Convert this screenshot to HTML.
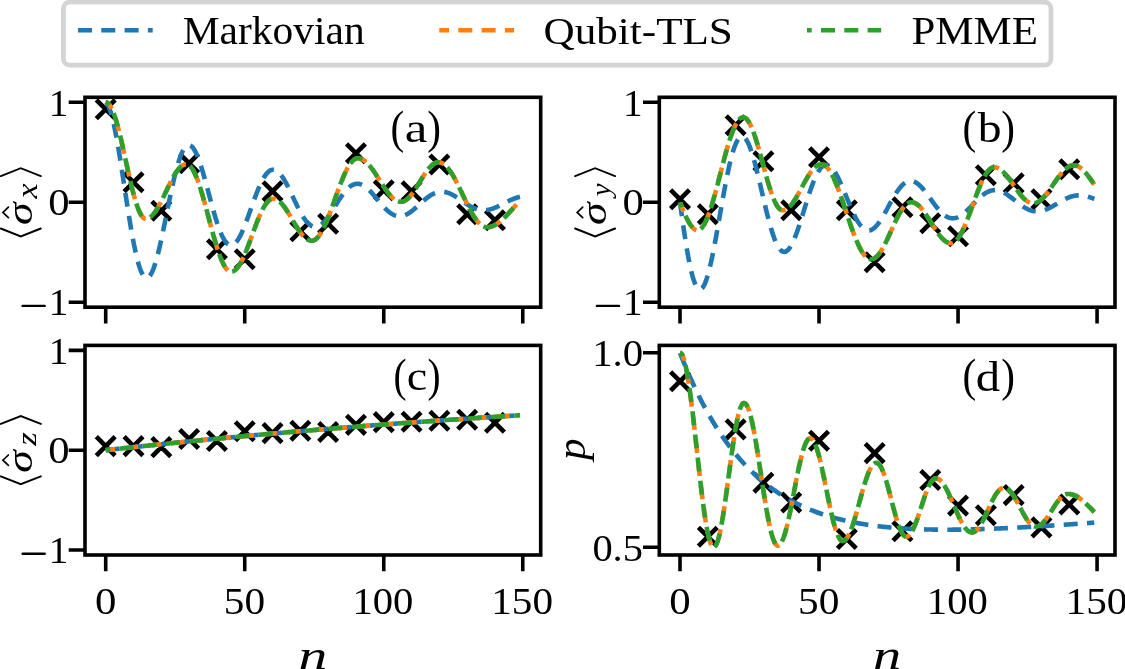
<!DOCTYPE html>
<html><head><meta charset="utf-8"><style>html,body{margin:0;padding:0;background:#fff;overflow:hidden}svg{display:block;will-change:transform}</style></head>
<body><svg width="1125" height="669" viewBox="0 0 1125 669">
<rect width="1125" height="669" fill="#fff"/>
<path d="M96.31,99.89L115.11,118.69M96.31,118.69L115.11,99.89M124.12,172.86L142.92,191.66M124.12,191.66L142.92,172.86M151.92,201.35L170.72,220.15M151.92,220.15L170.72,201.35M179.72,153.87L198.52,172.67M179.72,172.67L198.52,153.87M207.53,239.83L226.33,258.63M207.53,258.63L226.33,239.83M235.33,249.82L254.13,268.62M235.33,268.62L254.13,249.82M263.13,181.86L281.93,200.66M263.13,200.66L281.93,181.86M290.94,221.84L309.74,240.64M290.94,240.64L309.74,221.84M318.74,214.34L337.54,233.14M318.74,233.14L337.54,214.34M346.55,143.87L365.35,162.67M346.55,162.67L365.35,143.87M374.35,180.86L393.15,199.66M374.35,199.66L393.15,180.86M402.15,181.86L420.95,200.66M402.15,200.66L420.95,181.86M429.96,155.17L448.76,173.97M429.96,173.97L448.76,155.17M457.76,204.84L476.56,223.64M457.76,223.64L476.56,204.84M485.56,210.84L504.36,229.64M485.56,229.64L504.36,210.84" stroke="#000" stroke-width="4.6" fill="none"/>
<path d="M105.71,102.30 L106.41,102.89 L107.10,103.74 L107.79,104.85 L108.48,106.21 L109.17,107.81 L109.86,109.65 L110.55,111.71 L111.25,114.00 L111.94,116.51 L112.63,119.22 L113.32,122.12 L114.01,125.21 L114.70,128.48 L115.40,131.92 L116.09,135.51 L116.78,139.25 L117.47,143.12 L118.16,147.11 L118.85,151.21 L119.55,155.41 L120.24,159.70 L120.93,164.06 L121.62,168.48 L122.31,172.95 L123.00,177.46 L123.70,182.00 L124.39,186.54 L125.08,191.09 L125.77,195.62 L126.46,200.13 L127.15,204.60 L127.85,209.03 L128.54,213.40 L129.23,217.70 L129.92,221.91 L130.61,226.04 L131.30,230.06 L131.99,233.97 L132.69,237.77 L133.38,241.43 L134.07,244.95 L134.76,248.33 L135.45,251.56 L136.14,254.62 L136.84,257.52 L137.53,260.24 L138.22,262.78 L138.91,265.14 L139.60,267.30 L140.29,269.28 L140.99,271.06 L141.68,272.63 L142.37,274.01 L143.06,275.18 L143.75,276.15 L144.44,276.91 L145.14,277.46 L145.83,277.81 L146.52,277.96 L147.21,277.90 L147.90,277.64 L148.59,277.18 L149.28,276.53 L149.98,275.68 L150.67,274.65 L151.36,273.43 L152.05,272.03 L152.74,270.46 L153.43,268.73 L154.13,266.83 L154.82,264.78 L155.51,262.58 L156.20,260.24 L156.89,257.76 L157.58,255.17 L158.28,252.45 L158.97,249.62 L159.66,246.70 L160.35,243.68 L161.04,240.58 L161.73,237.41 L162.43,234.17 L163.12,230.88 L163.81,227.54 L164.50,224.17 L165.19,220.76 L165.88,217.34 L166.58,213.91 L167.27,210.48 L167.96,207.06 L168.65,203.66 L169.34,200.29 L170.03,196.95 L170.72,193.66 L171.42,190.42 L172.11,187.24 L172.80,184.14 L173.49,181.10 L174.18,178.16 L174.87,175.30 L175.57,172.54 L176.26,169.89 L176.95,167.35 L177.64,164.92 L178.33,162.62 L179.02,160.44 L179.72,158.39 L180.41,156.48 L181.10,154.71 L181.79,153.09 L182.48,151.60 L183.17,150.27 L183.87,149.09 L184.56,148.06 L185.25,147.18 L185.94,146.46 L186.63,145.90 L187.32,145.49 L188.01,145.23 L188.71,145.13 L189.40,145.19 L190.09,145.39 L190.78,145.74 L191.47,146.24 L192.16,146.89 L192.86,147.68 L193.55,148.60 L194.24,149.66 L194.93,150.86 L195.62,152.17 L196.31,153.61 L197.01,155.16 L197.70,156.83 L198.39,158.60 L199.08,160.47 L199.77,162.44 L200.46,164.49 L201.16,166.63 L201.85,168.84 L202.54,171.12 L203.23,173.46 L203.92,175.86 L204.61,178.30 L205.31,180.79 L206.00,183.31 L206.69,185.86 L207.38,188.42 L208.07,191.01 L208.76,193.59 L209.45,196.18 L210.15,198.76 L210.84,201.32 L211.53,203.87 L212.22,206.38 L212.91,208.86 L213.60,211.31 L214.30,213.70 L214.99,216.04 L215.68,218.33 L216.37,220.55 L217.06,222.70 L217.75,224.77 L218.45,226.77 L219.14,228.68 L219.83,230.51 L220.52,232.24 L221.21,233.88 L221.90,235.42 L222.60,236.85 L223.29,238.18 L223.98,239.41 L224.67,240.52 L225.36,241.52 L226.05,242.40 L226.74,243.17 L227.44,243.83 L228.13,244.36 L228.82,244.78 L229.51,245.09 L230.20,245.27 L230.89,245.34 L231.59,245.30 L232.28,245.14 L232.97,244.86 L233.66,244.48 L234.35,243.99 L235.04,243.39 L235.74,242.68 L236.43,241.88 L237.12,240.97 L237.81,239.97 L238.50,238.88 L239.19,237.71 L239.89,236.45 L240.58,235.10 L241.27,233.69 L241.96,232.20 L242.65,230.65 L243.34,229.03 L244.04,227.36 L244.73,225.64 L245.42,223.87 L246.11,222.06 L246.80,220.22 L247.49,218.34 L248.18,216.44 L248.88,214.51 L249.57,212.57 L250.26,210.63 L250.95,208.67 L251.64,206.72 L252.33,204.78 L253.03,202.84 L253.72,200.93 L254.41,199.03 L255.10,197.16 L255.79,195.32 L256.48,193.51 L257.18,191.75 L257.87,190.03 L258.56,188.36 L259.25,186.74 L259.94,185.17 L260.63,183.67 L261.33,182.23 L262.02,180.86 L262.71,179.55 L263.40,178.32 L264.09,177.17 L264.78,176.09 L265.47,175.09 L266.17,174.17 L266.86,173.34 L267.55,172.59 L268.24,171.92 L268.93,171.35 L269.62,170.86 L270.32,170.46 L271.01,170.15 L271.70,169.92 L272.39,169.79 L273.08,169.74 L273.77,169.78 L274.47,169.90 L275.16,170.12 L275.85,170.41 L276.54,170.79 L277.23,171.24 L277.92,171.78 L278.62,172.39 L279.31,173.08 L280.00,173.83 L280.69,174.66 L281.38,175.55 L282.07,176.51 L282.77,177.52 L283.46,178.59 L284.15,179.72 L284.84,180.89 L285.53,182.11 L286.22,183.37 L286.91,184.67 L287.61,186.01 L288.30,187.38 L288.99,188.77 L289.68,190.19 L290.37,191.63 L291.06,193.08 L291.76,194.54 L292.45,196.01 L293.14,197.48 L293.83,198.96 L294.52,200.42 L295.21,201.88 L295.91,203.33 L296.60,204.76 L297.29,206.17 L297.98,207.56 L298.67,208.92 L299.36,210.24 L300.06,211.54 L300.75,212.80 L301.44,214.02 L302.13,215.20 L302.82,216.33 L303.51,217.41 L304.20,218.45 L304.90,219.43 L305.59,220.35 L306.28,221.22 L306.97,222.03 L307.66,222.78 L308.35,223.47 L309.05,224.10 L309.74,224.66 L310.43,225.15 L311.12,225.59 L311.81,225.95 L312.50,226.25 L313.20,226.48 L313.89,226.65 L314.58,226.75 L315.27,226.78 L315.96,226.74 L316.65,226.65 L317.35,226.48 L318.04,226.26 L318.73,225.97 L319.42,225.62 L320.11,225.22 L320.80,224.75 L321.50,224.23 L322.19,223.66 L322.88,223.03 L323.57,222.35 L324.26,221.63 L324.95,220.86 L325.64,220.05 L326.34,219.20 L327.03,218.31 L327.72,217.39 L328.41,216.44 L329.10,215.45 L329.79,214.45 L330.49,213.41 L331.18,212.36 L331.87,211.29 L332.56,210.20 L333.25,209.11 L333.94,208.01 L334.64,206.90 L335.33,205.78 L336.02,204.67 L336.71,203.57 L337.40,202.47 L338.09,201.38 L338.79,200.30 L339.48,199.24 L340.17,198.19 L340.86,197.17 L341.55,196.16 L342.24,195.19 L342.93,194.24 L343.63,193.32 L344.32,192.43 L345.01,191.58 L345.70,190.77 L346.39,189.99 L347.08,189.25 L347.78,188.56 L348.47,187.90 L349.16,187.29 L349.85,186.73 L350.54,186.21 L351.23,185.74 L351.93,185.32 L352.62,184.95 L353.31,184.63 L354.00,184.36 L354.69,184.13 L355.38,183.96 L356.08,183.84 L356.77,183.77 L357.46,183.75 L358.15,183.77 L358.84,183.85 L359.53,183.98 L360.23,184.15 L360.92,184.37 L361.61,184.63 L362.30,184.94 L362.99,185.30 L363.68,185.69 L364.37,186.13 L365.07,186.60 L365.76,187.11 L366.45,187.66 L367.14,188.24 L367.83,188.85 L368.52,189.50 L369.22,190.17 L369.91,190.86 L370.60,191.59 L371.29,192.33 L371.98,193.09 L372.67,193.87 L373.37,194.67 L374.06,195.47 L374.75,196.29 L375.44,197.12 L376.13,197.95 L376.82,198.79 L377.52,199.63 L378.21,200.47 L378.90,201.30 L379.59,202.13 L380.28,202.95 L380.97,203.77 L381.66,204.57 L382.36,205.36 L383.05,206.13 L383.74,206.88 L384.43,207.62 L385.12,208.33 L385.81,209.02 L386.51,209.69 L387.20,210.33 L387.89,210.95 L388.58,211.53 L389.27,212.09 L389.96,212.61 L390.66,213.10 L391.35,213.56 L392.04,213.98 L392.73,214.37 L393.42,214.72 L394.11,215.04 L394.81,215.32 L395.50,215.56 L396.19,215.76 L396.88,215.93 L397.57,216.05 L398.26,216.14 L398.96,216.20 L399.65,216.21 L400.34,216.19 L401.03,216.13 L401.72,216.03 L402.41,215.90 L403.10,215.73 L403.80,215.53 L404.49,215.29 L405.18,215.03 L405.87,214.73 L406.56,214.40 L407.25,214.04 L407.95,213.65 L408.64,213.23 L409.33,212.80 L410.02,212.33 L410.71,211.84 L411.40,211.34 L412.10,210.81 L412.79,210.27 L413.48,209.70 L414.17,209.13 L414.86,208.54 L415.55,207.94 L416.25,207.33 L416.94,206.71 L417.63,206.09 L418.32,205.46 L419.01,204.83 L419.70,204.19 L420.39,203.56 L421.09,202.93 L421.78,202.31 L422.47,201.69 L423.16,201.07 L423.85,200.47 L424.54,199.88 L425.24,199.29 L425.93,198.72 L426.62,198.17 L427.31,197.63 L428.00,197.11 L428.69,196.61 L429.39,196.13 L430.08,195.66 L430.77,195.22 L431.46,194.81 L432.15,194.41 L432.84,194.04 L433.54,193.70 L434.23,193.38 L434.92,193.09 L435.61,192.83 L436.30,192.59 L436.99,192.38 L437.69,192.20 L438.38,192.05 L439.07,191.93 L439.76,191.83 L440.45,191.77 L441.14,191.73 L441.83,191.72 L442.53,191.74 L443.22,191.78 L443.91,191.86 L444.60,191.96 L445.29,192.09 L445.98,192.24 L446.68,192.42 L447.37,192.62 L448.06,192.85 L448.75,193.10 L449.44,193.37 L450.13,193.67 L450.83,193.98 L451.52,194.31 L452.21,194.66 L452.90,195.03 L453.59,195.42 L454.28,195.81 L454.98,196.23 L455.67,196.65 L456.36,197.09 L457.05,197.53 L457.74,197.98 L458.43,198.44 L459.12,198.91 L459.82,199.38 L460.51,199.86 L461.20,200.33 L461.89,200.81 L462.58,201.29 L463.27,201.76 L463.97,202.23 L464.66,202.70 L465.35,203.16 L466.04,203.62 L466.73,204.07 L467.42,204.50 L468.12,204.93 L468.81,205.35 L469.50,205.76 L470.19,206.15 L470.88,206.53 L471.57,206.89 L472.27,207.24 L472.96,207.57 L473.65,207.88 L474.34,208.18 L475.03,208.45 L475.72,208.71 L476.42,208.95 L477.11,209.17 L477.80,209.37 L478.49,209.55 L479.18,209.70 L479.87,209.84 L480.56,209.95 L481.26,210.04 L481.95,210.11 L482.64,210.16 L483.33,210.19 L484.02,210.20 L484.71,210.18 L485.41,210.14 L486.10,210.09 L486.79,210.01 L487.48,209.91 L488.17,209.79 L488.86,209.66 L489.56,209.50 L490.25,209.33 L490.94,209.14 L491.63,208.94 L492.32,208.71 L493.01,208.48 L493.71,208.22 L494.40,207.96 L495.09,207.68 L495.78,207.39 L496.47,207.09 L497.16,206.78 L497.85,206.46 L498.55,206.13 L499.24,205.79 L499.93,205.45 L500.62,205.10 L501.31,204.75 L502.00,204.39 L502.70,204.04 L503.39,203.68 L504.08,203.32 L504.77,202.96 L505.46,202.60 L506.15,202.24 L506.85,201.89 L507.54,201.54 L508.23,201.20 L508.92,200.86 L509.61,200.53 L510.30,200.21 L511.00,199.89 L511.69,199.59 L512.38,199.29 L513.07,199.01 L513.76,198.74 L514.45,198.47 L515.15,198.22 L515.84,197.99 L516.53,197.77 L517.22,197.56 L517.91,197.36 L518.60,197.18 L519.29,197.02 L519.99,196.87" fill="none" stroke="#1f77b4" stroke-width="4.60" stroke-dasharray="14 9.3" stroke-dashoffset="0.00" stroke-linejoin="round"/>
<path d="M105.71,102.30 L106.41,102.38 L107.10,102.64 L107.79,103.07 L108.48,103.66 L109.17,104.43 L109.86,105.36 L110.55,106.45 L111.25,107.70 L111.94,109.11 L112.63,110.66 L113.32,112.37 L114.01,114.21 L114.70,116.20 L115.40,118.31 L116.09,120.55 L116.78,122.90 L117.47,125.37 L118.16,127.94 L118.85,130.60 L119.55,133.35 L120.24,136.19 L120.93,139.09 L121.62,142.06 L122.31,145.08 L123.00,148.15 L123.70,151.25 L124.39,154.39 L125.08,157.54 L125.77,160.69 L126.46,163.85 L127.15,167.00 L127.85,170.13 L128.54,173.23 L129.23,176.29 L129.92,179.31 L130.61,182.27 L131.30,185.17 L131.99,187.99 L132.69,190.74 L133.38,193.39 L134.07,195.95 L134.76,198.40 L135.45,200.75 L136.14,202.97 L136.84,205.07 L137.53,207.04 L138.22,208.87 L138.91,210.56 L139.60,212.10 L140.29,213.49 L140.99,214.72 L141.68,215.79 L142.37,216.70 L143.06,217.45 L143.75,218.03 L144.44,218.44 L145.14,218.67 L145.83,218.74 L146.52,218.69 L147.21,218.57 L147.90,218.37 L148.59,218.09 L149.28,217.73 L149.98,217.30 L150.67,216.79 L151.36,216.22 L152.05,215.57 L152.74,214.85 L153.43,214.07 L154.13,213.22 L154.82,212.31 L155.51,211.34 L156.20,210.31 L156.89,209.23 L157.58,208.10 L158.28,206.92 L158.97,205.69 L159.66,204.43 L160.35,203.13 L161.04,201.79 L161.73,200.43 L162.43,199.04 L163.12,197.63 L163.81,196.20 L164.50,194.76 L165.19,193.31 L165.88,191.85 L166.58,190.39 L167.27,188.94 L167.96,187.49 L168.65,186.06 L169.34,184.64 L170.03,183.24 L170.72,181.86 L171.42,180.51 L172.11,179.19 L172.80,177.91 L173.49,176.67 L174.18,175.47 L174.87,174.31 L175.57,173.21 L176.26,172.15 L176.95,171.16 L177.64,170.22 L178.33,169.34 L179.02,168.52 L179.72,167.77 L180.41,167.09 L181.10,166.48 L181.79,165.94 L182.48,165.48 L183.17,165.08 L183.87,164.77 L184.56,164.53 L185.25,164.37 L185.94,164.28 L186.63,164.28 L187.32,164.39 L188.01,164.64 L188.71,165.00 L189.40,165.50 L190.09,166.11 L190.78,166.85 L191.47,167.71 L192.16,168.69 L192.86,169.78 L193.55,170.99 L194.24,172.31 L194.93,173.73 L195.62,175.26 L196.31,176.89 L197.01,178.62 L197.70,180.44 L198.39,182.35 L199.08,184.34 L199.77,186.41 L200.46,188.56 L201.16,190.77 L201.85,193.05 L202.54,195.39 L203.23,197.78 L203.92,200.22 L204.61,202.70 L205.31,205.22 L206.00,207.77 L206.69,210.34 L207.38,212.93 L208.07,215.53 L208.76,218.13 L209.45,220.74 L210.15,223.34 L210.84,225.93 L211.53,228.50 L212.22,231.04 L212.91,233.55 L213.60,236.03 L214.30,238.46 L214.99,240.85 L215.68,243.18 L216.37,245.45 L217.06,247.66 L217.75,249.80 L218.45,251.86 L219.14,253.85 L219.83,255.75 L220.52,257.56 L221.21,259.27 L221.90,260.89 L222.60,262.41 L223.29,263.83 L223.98,265.13 L224.67,266.33 L225.36,267.41 L226.05,268.37 L226.74,269.22 L227.44,269.94 L228.13,270.55 L228.82,271.03 L229.51,271.38 L230.20,271.61 L230.89,271.71 L231.59,271.69 L232.28,271.58 L232.97,271.36 L233.66,271.05 L234.35,270.65 L235.04,270.15 L235.74,269.55 L236.43,268.86 L237.12,268.09 L237.81,267.22 L238.50,266.27 L239.19,265.24 L239.89,264.13 L240.58,262.93 L241.27,261.67 L241.96,260.33 L242.65,258.93 L243.34,257.46 L244.04,255.94 L244.73,254.36 L245.42,252.72 L246.11,251.04 L246.80,249.32 L247.49,247.56 L248.18,245.77 L248.88,243.95 L249.57,242.10 L250.26,240.24 L250.95,238.36 L251.64,236.48 L252.33,234.59 L253.03,232.71 L253.72,230.83 L254.41,228.96 L255.10,227.11 L255.79,225.28 L256.48,223.48 L257.18,221.71 L257.87,219.97 L258.56,218.28 L259.25,216.63 L259.94,215.03 L260.63,213.49 L261.33,212.00 L262.02,210.58 L262.71,209.22 L263.40,207.93 L264.09,206.72 L264.78,205.58 L265.47,204.52 L266.17,203.54 L266.86,202.65 L267.55,201.84 L268.24,201.13 L268.93,200.50 L269.62,199.97 L270.32,199.54 L271.01,199.19 L271.70,198.95 L272.39,198.80 L273.08,198.75 L273.77,198.78 L274.47,198.88 L275.16,199.05 L275.85,199.28 L276.54,199.57 L277.23,199.93 L277.92,200.35 L278.62,200.83 L279.31,201.37 L280.00,201.97 L280.69,202.63 L281.38,203.34 L282.07,204.10 L282.77,204.91 L283.46,205.77 L284.15,206.68 L284.84,207.62 L285.53,208.60 L286.22,209.62 L286.91,210.67 L287.61,211.75 L288.30,212.85 L288.99,213.97 L289.68,215.12 L290.37,216.27 L291.06,217.44 L291.76,218.62 L292.45,219.80 L293.14,220.98 L293.83,222.15 L294.52,223.32 L295.21,224.48 L295.91,225.62 L296.60,226.74 L297.29,227.84 L297.98,228.92 L298.67,229.96 L299.36,230.98 L300.06,231.96 L300.75,232.90 L301.44,233.79 L302.13,234.65 L302.82,235.46 L303.51,236.21 L304.20,236.92 L304.90,237.57 L305.59,238.16 L306.28,238.70 L306.97,239.18 L307.66,239.59 L308.35,239.94 L309.05,240.23 L309.74,240.45 L310.43,240.61 L311.12,240.71 L311.81,240.73 L312.50,240.68 L313.20,240.53 L313.89,240.29 L314.58,239.96 L315.27,239.55 L315.96,239.04 L316.65,238.44 L317.35,237.76 L318.04,237.00 L318.73,236.15 L319.42,235.22 L320.11,234.21 L320.80,233.13 L321.50,231.97 L322.19,230.74 L322.88,229.43 L323.57,228.07 L324.26,226.64 L324.95,225.15 L325.64,223.60 L326.34,222.00 L327.03,220.35 L327.72,218.65 L328.41,216.91 L329.10,215.13 L329.79,213.32 L330.49,211.47 L331.18,209.61 L331.87,207.71 L332.56,205.80 L333.25,203.88 L333.94,201.94 L334.64,200.00 L335.33,198.06 L336.02,196.13 L336.71,194.20 L337.40,192.28 L338.09,190.38 L338.79,188.49 L339.48,186.64 L340.17,184.81 L340.86,183.01 L341.55,181.25 L342.24,179.53 L342.93,177.86 L343.63,176.23 L344.32,174.65 L345.01,173.13 L345.70,171.67 L346.39,170.27 L347.08,168.93 L347.78,167.66 L348.47,166.47 L349.16,165.34 L349.85,164.29 L350.54,163.32 L351.23,162.43 L351.93,161.62 L352.62,160.90 L353.31,160.26 L354.00,159.71 L354.69,159.24 L355.38,158.87 L356.08,158.59 L356.77,158.39 L357.46,158.29 L358.15,158.27 L358.84,158.32 L359.53,158.43 L360.23,158.58 L360.92,158.80 L361.61,159.06 L362.30,159.38 L362.99,159.76 L363.68,160.18 L364.37,160.65 L365.07,161.18 L365.76,161.75 L366.45,162.37 L367.14,163.03 L367.83,163.73 L368.52,164.48 L369.22,165.27 L369.91,166.09 L370.60,166.95 L371.29,167.84 L371.98,168.77 L372.67,169.72 L373.37,170.70 L374.06,171.70 L374.75,172.72 L375.44,173.76 L376.13,174.82 L376.82,175.89 L377.52,176.97 L378.21,178.06 L378.90,179.15 L379.59,180.25 L380.28,181.34 L380.97,182.44 L381.66,183.52 L382.36,184.60 L383.05,185.66 L383.74,186.71 L384.43,187.75 L385.12,188.76 L385.81,189.75 L386.51,190.72 L387.20,191.66 L387.89,192.57 L388.58,193.45 L389.27,194.29 L389.96,195.10 L390.66,195.87 L391.35,196.60 L392.04,197.29 L392.73,197.93 L393.42,198.53 L394.11,199.08 L394.81,199.58 L395.50,200.03 L396.19,200.43 L396.88,200.78 L397.57,201.08 L398.26,201.32 L398.96,201.51 L399.65,201.65 L400.34,201.73 L401.03,201.75 L401.72,201.71 L402.41,201.61 L403.10,201.44 L403.80,201.21 L404.49,200.91 L405.18,200.55 L405.87,200.12 L406.56,199.64 L407.25,199.10 L407.95,198.50 L408.64,197.84 L409.33,197.13 L410.02,196.37 L410.71,195.56 L411.40,194.71 L412.10,193.82 L412.79,192.88 L413.48,191.91 L414.17,190.90 L414.86,189.87 L415.55,188.81 L416.25,187.72 L416.94,186.62 L417.63,185.50 L418.32,184.37 L419.01,183.24 L419.70,182.09 L420.39,180.95 L421.09,179.81 L421.78,178.68 L422.47,177.56 L423.16,176.46 L423.85,175.37 L424.54,174.31 L425.24,173.27 L425.93,172.26 L426.62,171.28 L427.31,170.34 L428.00,169.44 L428.69,168.58 L429.39,167.76 L430.08,167.00 L430.77,166.28 L431.46,165.62 L432.15,165.01 L432.84,164.46 L433.54,163.96 L434.23,163.53 L434.92,163.16 L435.61,162.85 L436.30,162.61 L436.99,162.43 L437.69,162.32 L438.38,162.27 L439.07,162.29 L439.76,162.37 L440.45,162.52 L441.14,162.74 L441.83,163.02 L442.53,163.36 L443.22,163.77 L443.91,164.24 L444.60,164.77 L445.29,165.36 L445.98,166.01 L446.68,166.72 L447.37,167.48 L448.06,168.30 L448.75,169.18 L449.44,170.10 L450.13,171.08 L450.83,172.10 L451.52,173.17 L452.21,174.28 L452.90,175.43 L453.59,176.62 L454.28,177.85 L454.98,179.11 L455.67,180.41 L456.36,181.73 L457.05,183.08 L457.74,184.45 L458.43,185.85 L459.12,187.26 L459.82,188.68 L460.51,190.12 L461.20,191.57 L461.89,193.03 L462.58,194.48 L463.27,195.94 L463.97,197.40 L464.66,198.85 L465.35,200.29 L466.04,201.72 L466.73,203.14 L467.42,204.54 L468.12,205.92 L468.81,207.28 L469.50,208.61 L470.19,209.92 L470.88,211.19 L471.57,212.43 L472.27,213.64 L472.96,214.81 L473.65,215.93 L474.34,217.02 L475.03,218.06 L475.72,219.05 L476.42,219.99 L477.11,220.89 L477.80,221.73 L478.49,222.51 L479.18,223.24 L479.87,223.91 L480.56,224.53 L481.26,225.08 L481.95,225.57 L482.64,226.00 L483.33,226.37 L484.02,226.67 L484.71,226.91 L485.41,227.09 L486.10,227.19 L486.79,227.24 L487.48,227.23 L488.17,227.18 L488.86,227.10 L489.56,226.99 L490.25,226.85 L490.94,226.67 L491.63,226.46 L492.32,226.22 L493.01,225.95 L493.71,225.65 L494.40,225.32 L495.09,224.95 L495.78,224.56 L496.47,224.14 L497.16,223.69 L497.85,223.22 L498.55,222.72 L499.24,222.20 L499.93,221.65 L500.62,221.08 L501.31,220.48 L502.00,219.87 L502.70,219.24 L503.39,218.59 L504.08,217.92 L504.77,217.24 L505.46,216.54 L506.15,215.83 L506.85,215.11 L507.54,214.38 L508.23,213.64 L508.92,212.89 L509.61,212.14 L510.30,211.38 L511.00,210.62 L511.69,209.85 L512.38,209.09 L513.07,208.33 L513.76,207.57 L514.45,206.81 L515.15,206.06 L515.84,205.32 L516.53,204.59 L517.22,203.86 L517.91,203.15 L518.60,202.45 L519.29,201.76 L519.99,201.09" fill="none" stroke="#ff7f0e" stroke-width="4.60" stroke-dasharray="14 9.3" stroke-dashoffset="4.65" stroke-linejoin="round"/>
<path d="M105.71,102.30 L106.41,102.38 L107.10,102.64 L107.79,103.07 L108.48,103.66 L109.17,104.43 L109.86,105.36 L110.55,106.45 L111.25,107.70 L111.94,109.11 L112.63,110.66 L113.32,112.37 L114.01,114.21 L114.70,116.20 L115.40,118.31 L116.09,120.55 L116.78,122.90 L117.47,125.37 L118.16,127.94 L118.85,130.60 L119.55,133.35 L120.24,136.19 L120.93,139.09 L121.62,142.06 L122.31,145.08 L123.00,148.15 L123.70,151.25 L124.39,154.39 L125.08,157.54 L125.77,160.69 L126.46,163.85 L127.15,167.00 L127.85,170.13 L128.54,173.23 L129.23,176.29 L129.92,179.31 L130.61,182.27 L131.30,185.17 L131.99,187.99 L132.69,190.74 L133.38,193.39 L134.07,195.95 L134.76,198.40 L135.45,200.75 L136.14,202.97 L136.84,205.07 L137.53,207.04 L138.22,208.87 L138.91,210.56 L139.60,212.10 L140.29,213.49 L140.99,214.72 L141.68,215.79 L142.37,216.70 L143.06,217.45 L143.75,218.03 L144.44,218.44 L145.14,218.67 L145.83,218.74 L146.52,218.69 L147.21,218.57 L147.90,218.37 L148.59,218.09 L149.28,217.73 L149.98,217.30 L150.67,216.79 L151.36,216.22 L152.05,215.57 L152.74,214.85 L153.43,214.07 L154.13,213.22 L154.82,212.31 L155.51,211.34 L156.20,210.31 L156.89,209.23 L157.58,208.10 L158.28,206.92 L158.97,205.69 L159.66,204.43 L160.35,203.13 L161.04,201.79 L161.73,200.43 L162.43,199.04 L163.12,197.63 L163.81,196.20 L164.50,194.76 L165.19,193.31 L165.88,191.85 L166.58,190.39 L167.27,188.94 L167.96,187.49 L168.65,186.06 L169.34,184.64 L170.03,183.24 L170.72,181.86 L171.42,180.51 L172.11,179.19 L172.80,177.91 L173.49,176.67 L174.18,175.47 L174.87,174.31 L175.57,173.21 L176.26,172.15 L176.95,171.16 L177.64,170.22 L178.33,169.34 L179.02,168.52 L179.72,167.77 L180.41,167.09 L181.10,166.48 L181.79,165.94 L182.48,165.48 L183.17,165.08 L183.87,164.77 L184.56,164.53 L185.25,164.37 L185.94,164.28 L186.63,164.28 L187.32,164.39 L188.01,164.64 L188.71,165.00 L189.40,165.50 L190.09,166.11 L190.78,166.85 L191.47,167.71 L192.16,168.69 L192.86,169.78 L193.55,170.99 L194.24,172.31 L194.93,173.73 L195.62,175.26 L196.31,176.89 L197.01,178.62 L197.70,180.44 L198.39,182.35 L199.08,184.34 L199.77,186.41 L200.46,188.56 L201.16,190.77 L201.85,193.05 L202.54,195.39 L203.23,197.78 L203.92,200.22 L204.61,202.70 L205.31,205.22 L206.00,207.77 L206.69,210.34 L207.38,212.93 L208.07,215.53 L208.76,218.13 L209.45,220.74 L210.15,223.34 L210.84,225.93 L211.53,228.50 L212.22,231.04 L212.91,233.55 L213.60,236.03 L214.30,238.46 L214.99,240.85 L215.68,243.18 L216.37,245.45 L217.06,247.66 L217.75,249.80 L218.45,251.86 L219.14,253.85 L219.83,255.75 L220.52,257.56 L221.21,259.27 L221.90,260.89 L222.60,262.41 L223.29,263.83 L223.98,265.13 L224.67,266.33 L225.36,267.41 L226.05,268.37 L226.74,269.22 L227.44,269.94 L228.13,270.55 L228.82,271.03 L229.51,271.38 L230.20,271.61 L230.89,271.71 L231.59,271.69 L232.28,271.58 L232.97,271.36 L233.66,271.05 L234.35,270.65 L235.04,270.15 L235.74,269.55 L236.43,268.86 L237.12,268.09 L237.81,267.22 L238.50,266.27 L239.19,265.24 L239.89,264.13 L240.58,262.93 L241.27,261.67 L241.96,260.33 L242.65,258.93 L243.34,257.46 L244.04,255.94 L244.73,254.36 L245.42,252.72 L246.11,251.04 L246.80,249.32 L247.49,247.56 L248.18,245.77 L248.88,243.95 L249.57,242.10 L250.26,240.24 L250.95,238.36 L251.64,236.48 L252.33,234.59 L253.03,232.71 L253.72,230.83 L254.41,228.96 L255.10,227.11 L255.79,225.28 L256.48,223.48 L257.18,221.71 L257.87,219.97 L258.56,218.28 L259.25,216.63 L259.94,215.03 L260.63,213.49 L261.33,212.00 L262.02,210.58 L262.71,209.22 L263.40,207.93 L264.09,206.72 L264.78,205.58 L265.47,204.52 L266.17,203.54 L266.86,202.65 L267.55,201.84 L268.24,201.13 L268.93,200.50 L269.62,199.97 L270.32,199.54 L271.01,199.19 L271.70,198.95 L272.39,198.80 L273.08,198.75 L273.77,198.78 L274.47,198.88 L275.16,199.05 L275.85,199.28 L276.54,199.57 L277.23,199.93 L277.92,200.35 L278.62,200.83 L279.31,201.37 L280.00,201.97 L280.69,202.63 L281.38,203.34 L282.07,204.10 L282.77,204.91 L283.46,205.77 L284.15,206.68 L284.84,207.62 L285.53,208.60 L286.22,209.62 L286.91,210.67 L287.61,211.75 L288.30,212.85 L288.99,213.97 L289.68,215.12 L290.37,216.27 L291.06,217.44 L291.76,218.62 L292.45,219.80 L293.14,220.98 L293.83,222.15 L294.52,223.32 L295.21,224.48 L295.91,225.62 L296.60,226.74 L297.29,227.84 L297.98,228.92 L298.67,229.96 L299.36,230.98 L300.06,231.96 L300.75,232.90 L301.44,233.79 L302.13,234.65 L302.82,235.46 L303.51,236.21 L304.20,236.92 L304.90,237.57 L305.59,238.16 L306.28,238.70 L306.97,239.18 L307.66,239.59 L308.35,239.94 L309.05,240.23 L309.74,240.45 L310.43,240.61 L311.12,240.71 L311.81,240.73 L312.50,240.68 L313.20,240.53 L313.89,240.29 L314.58,239.96 L315.27,239.55 L315.96,239.04 L316.65,238.44 L317.35,237.76 L318.04,237.00 L318.73,236.15 L319.42,235.22 L320.11,234.21 L320.80,233.13 L321.50,231.97 L322.19,230.74 L322.88,229.43 L323.57,228.07 L324.26,226.64 L324.95,225.15 L325.64,223.60 L326.34,222.00 L327.03,220.35 L327.72,218.65 L328.41,216.91 L329.10,215.13 L329.79,213.32 L330.49,211.47 L331.18,209.61 L331.87,207.71 L332.56,205.80 L333.25,203.88 L333.94,201.94 L334.64,200.00 L335.33,198.06 L336.02,196.13 L336.71,194.20 L337.40,192.28 L338.09,190.38 L338.79,188.49 L339.48,186.64 L340.17,184.81 L340.86,183.01 L341.55,181.25 L342.24,179.53 L342.93,177.86 L343.63,176.23 L344.32,174.65 L345.01,173.13 L345.70,171.67 L346.39,170.27 L347.08,168.93 L347.78,167.66 L348.47,166.47 L349.16,165.34 L349.85,164.29 L350.54,163.32 L351.23,162.43 L351.93,161.62 L352.62,160.90 L353.31,160.26 L354.00,159.71 L354.69,159.24 L355.38,158.87 L356.08,158.59 L356.77,158.39 L357.46,158.29 L358.15,158.27 L358.84,158.32 L359.53,158.43 L360.23,158.58 L360.92,158.80 L361.61,159.06 L362.30,159.38 L362.99,159.76 L363.68,160.18 L364.37,160.65 L365.07,161.18 L365.76,161.75 L366.45,162.37 L367.14,163.03 L367.83,163.73 L368.52,164.48 L369.22,165.27 L369.91,166.09 L370.60,166.95 L371.29,167.84 L371.98,168.77 L372.67,169.72 L373.37,170.70 L374.06,171.70 L374.75,172.72 L375.44,173.76 L376.13,174.82 L376.82,175.89 L377.52,176.97 L378.21,178.06 L378.90,179.15 L379.59,180.25 L380.28,181.34 L380.97,182.44 L381.66,183.52 L382.36,184.60 L383.05,185.66 L383.74,186.71 L384.43,187.75 L385.12,188.76 L385.81,189.75 L386.51,190.72 L387.20,191.66 L387.89,192.57 L388.58,193.45 L389.27,194.29 L389.96,195.10 L390.66,195.87 L391.35,196.60 L392.04,197.29 L392.73,197.93 L393.42,198.53 L394.11,199.08 L394.81,199.58 L395.50,200.03 L396.19,200.43 L396.88,200.78 L397.57,201.08 L398.26,201.32 L398.96,201.51 L399.65,201.65 L400.34,201.73 L401.03,201.75 L401.72,201.71 L402.41,201.61 L403.10,201.44 L403.80,201.21 L404.49,200.91 L405.18,200.55 L405.87,200.12 L406.56,199.64 L407.25,199.10 L407.95,198.50 L408.64,197.84 L409.33,197.13 L410.02,196.37 L410.71,195.56 L411.40,194.71 L412.10,193.82 L412.79,192.88 L413.48,191.91 L414.17,190.90 L414.86,189.87 L415.55,188.81 L416.25,187.72 L416.94,186.62 L417.63,185.50 L418.32,184.37 L419.01,183.24 L419.70,182.09 L420.39,180.95 L421.09,179.81 L421.78,178.68 L422.47,177.56 L423.16,176.46 L423.85,175.37 L424.54,174.31 L425.24,173.27 L425.93,172.26 L426.62,171.28 L427.31,170.34 L428.00,169.44 L428.69,168.58 L429.39,167.76 L430.08,167.00 L430.77,166.28 L431.46,165.62 L432.15,165.01 L432.84,164.46 L433.54,163.96 L434.23,163.53 L434.92,163.16 L435.61,162.85 L436.30,162.61 L436.99,162.43 L437.69,162.32 L438.38,162.27 L439.07,162.29 L439.76,162.37 L440.45,162.52 L441.14,162.74 L441.83,163.02 L442.53,163.36 L443.22,163.77 L443.91,164.24 L444.60,164.77 L445.29,165.36 L445.98,166.01 L446.68,166.72 L447.37,167.48 L448.06,168.30 L448.75,169.18 L449.44,170.10 L450.13,171.08 L450.83,172.10 L451.52,173.17 L452.21,174.28 L452.90,175.43 L453.59,176.62 L454.28,177.85 L454.98,179.11 L455.67,180.41 L456.36,181.73 L457.05,183.08 L457.74,184.45 L458.43,185.85 L459.12,187.26 L459.82,188.68 L460.51,190.12 L461.20,191.57 L461.89,193.03 L462.58,194.48 L463.27,195.94 L463.97,197.40 L464.66,198.85 L465.35,200.29 L466.04,201.72 L466.73,203.14 L467.42,204.54 L468.12,205.92 L468.81,207.28 L469.50,208.61 L470.19,209.92 L470.88,211.19 L471.57,212.43 L472.27,213.64 L472.96,214.81 L473.65,215.93 L474.34,217.02 L475.03,218.06 L475.72,219.05 L476.42,219.99 L477.11,220.89 L477.80,221.73 L478.49,222.51 L479.18,223.24 L479.87,223.91 L480.56,224.53 L481.26,225.08 L481.95,225.57 L482.64,226.00 L483.33,226.37 L484.02,226.67 L484.71,226.91 L485.41,227.09 L486.10,227.19 L486.79,227.24 L487.48,227.23 L488.17,227.18 L488.86,227.10 L489.56,226.99 L490.25,226.85 L490.94,226.67 L491.63,226.46 L492.32,226.22 L493.01,225.95 L493.71,225.65 L494.40,225.32 L495.09,224.95 L495.78,224.56 L496.47,224.14 L497.16,223.69 L497.85,223.22 L498.55,222.72 L499.24,222.20 L499.93,221.65 L500.62,221.08 L501.31,220.48 L502.00,219.87 L502.70,219.24 L503.39,218.59 L504.08,217.92 L504.77,217.24 L505.46,216.54 L506.15,215.83 L506.85,215.11 L507.54,214.38 L508.23,213.64 L508.92,212.89 L509.61,212.14 L510.30,211.38 L511.00,210.62 L511.69,209.85 L512.38,209.09 L513.07,208.33 L513.76,207.57 L514.45,206.81 L515.15,206.06 L515.84,205.32 L516.53,204.59 L517.22,203.86 L517.91,203.15 L518.60,202.45 L519.29,201.76 L519.99,201.09" fill="none" stroke="#2ca02c" stroke-width="4.60" stroke-dasharray="14 9.3" stroke-dashoffset="9.30" stroke-linejoin="round"/>
<path d="M670.61,189.85L689.41,208.65M670.61,208.65L689.41,189.85M698.42,204.84L717.22,223.64M698.42,223.64L717.22,204.84M726.22,115.89L745.02,134.69M726.22,134.69L745.02,115.89M754.02,151.87L772.82,170.67M754.02,170.67L772.82,151.87M781.83,200.85L800.63,219.65M781.83,219.65L800.63,200.85M809.63,147.87L828.43,166.67M809.63,166.67L828.43,147.87M837.43,200.85L856.23,219.65M837.43,219.65L856.23,200.85M865.24,252.82L884.04,271.62M865.24,271.62L884.04,252.82M893.04,197.85L911.84,216.65M893.04,216.65L911.84,197.85M920.85,213.84L939.65,232.64M920.85,232.64L939.65,213.84M948.65,226.83L967.45,245.63M948.65,245.63L967.45,226.83M976.45,165.86L995.25,184.66M976.45,184.66L995.25,165.86M1004.26,173.86L1023.06,192.66M1004.26,192.66L1023.06,173.86M1032.06,189.85L1050.86,208.65M1032.06,208.65L1050.86,189.85M1059.86,159.87L1078.66,178.67M1059.86,178.67L1078.66,159.87" stroke="#000" stroke-width="4.6" fill="none"/>
<path d="M680.01,202.25 L680.71,207.38 L681.40,212.44 L682.09,217.43 L682.78,222.34 L683.47,227.15 L684.16,231.84 L684.85,236.41 L685.55,240.86 L686.24,245.15 L686.93,249.30 L687.62,253.27 L688.31,257.08 L689.00,260.71 L689.70,264.14 L690.39,267.38 L691.08,270.42 L691.77,273.25 L692.46,275.86 L693.15,278.25 L693.85,280.42 L694.54,282.35 L695.23,284.06 L695.92,285.53 L696.61,286.77 L697.30,287.77 L698.00,288.54 L698.69,289.06 L699.38,289.35 L700.07,289.41 L700.76,289.23 L701.45,288.82 L702.15,288.19 L702.84,287.33 L703.53,286.25 L704.22,284.96 L704.91,283.46 L705.60,281.76 L706.29,279.86 L706.99,277.78 L707.68,275.51 L708.37,273.06 L709.06,270.45 L709.75,267.68 L710.44,264.77 L711.14,261.71 L711.83,258.52 L712.52,255.21 L713.21,251.80 L713.90,248.28 L714.59,244.67 L715.29,240.98 L715.98,237.22 L716.67,233.40 L717.36,229.54 L718.05,225.63 L718.74,221.70 L719.44,217.76 L720.13,213.81 L720.82,209.87 L721.51,205.94 L722.20,202.04 L722.89,198.17 L723.58,194.35 L724.28,190.59 L724.97,186.89 L725.66,183.27 L726.35,179.73 L727.04,176.29 L727.73,172.94 L728.43,169.71 L729.12,166.59 L729.81,163.59 L730.50,160.73 L731.19,158.00 L731.88,155.42 L732.58,152.98 L733.27,150.70 L733.96,148.58 L734.65,146.61 L735.34,144.82 L736.03,143.19 L736.73,141.74 L737.42,140.46 L738.11,139.36 L738.80,138.44 L739.49,137.69 L740.18,137.13 L740.88,136.74 L741.57,136.53 L742.26,136.50 L742.95,136.64 L743.64,136.96 L744.33,137.45 L745.02,138.10 L745.72,138.92 L746.41,139.91 L747.10,141.05 L747.79,142.34 L748.48,143.78 L749.17,145.36 L749.87,147.08 L750.56,148.93 L751.25,150.91 L751.94,153.00 L752.63,155.21 L753.32,157.52 L754.02,159.93 L754.71,162.43 L755.40,165.01 L756.09,167.67 L756.78,170.40 L757.47,173.19 L758.17,176.03 L758.86,178.91 L759.55,181.82 L760.24,184.77 L760.93,187.74 L761.62,190.71 L762.31,193.69 L763.01,196.67 L763.70,199.63 L764.39,202.57 L765.08,205.49 L765.77,208.36 L766.46,211.20 L767.16,213.99 L767.85,216.72 L768.54,219.38 L769.23,221.98 L769.92,224.50 L770.61,226.93 L771.31,229.28 L772.00,231.53 L772.69,233.69 L773.38,235.74 L774.07,237.69 L774.76,239.52 L775.46,241.23 L776.15,242.83 L776.84,244.30 L777.53,245.65 L778.22,246.87 L778.91,247.96 L779.61,248.91 L780.30,249.74 L780.99,250.43 L781.68,250.98 L782.37,251.40 L783.06,251.69 L783.75,251.84 L784.45,251.85 L785.14,251.74 L785.83,251.49 L786.52,251.12 L787.21,250.61 L787.90,249.99 L788.60,249.24 L789.29,248.37 L789.98,247.39 L790.67,246.30 L791.36,245.10 L792.05,243.80 L792.75,242.40 L793.44,240.90 L794.13,239.32 L794.82,237.65 L795.51,235.90 L796.20,234.08 L796.90,232.19 L797.59,230.23 L798.28,228.22 L798.97,226.16 L799.66,224.06 L800.35,221.92 L801.04,219.74 L801.74,217.54 L802.43,215.32 L803.12,213.08 L803.81,210.83 L804.50,208.58 L805.19,206.34 L805.89,204.11 L806.58,201.89 L807.27,199.69 L807.96,197.52 L808.65,195.38 L809.34,193.28 L810.04,191.23 L810.73,189.22 L811.42,187.26 L812.11,185.37 L812.80,183.53 L813.49,181.76 L814.19,180.07 L814.88,178.44 L815.57,176.90 L816.26,175.44 L816.95,174.06 L817.64,172.77 L818.34,171.57 L819.03,170.47 L819.72,169.46 L820.41,168.54 L821.10,167.73 L821.79,167.01 L822.48,166.39 L823.18,165.88 L823.87,165.47 L824.56,165.15 L825.25,164.94 L825.94,164.84 L826.63,164.83 L827.33,164.92 L828.02,165.11 L828.71,165.40 L829.40,165.79 L830.09,166.26 L830.78,166.83 L831.48,167.49 L832.17,168.24 L832.86,169.06 L833.55,169.97 L834.24,170.96 L834.93,172.02 L835.63,173.15 L836.32,174.35 L837.01,175.62 L837.70,176.94 L838.39,178.32 L839.08,179.74 L839.77,181.22 L840.47,182.74 L841.16,184.29 L841.85,185.88 L842.54,187.50 L843.23,189.14 L843.92,190.81 L844.62,192.49 L845.31,194.17 L846.00,195.87 L846.69,197.56 L847.38,199.26 L848.07,200.94 L848.77,202.62 L849.46,204.27 L850.15,205.91 L850.84,207.52 L851.53,209.10 L852.22,210.65 L852.92,212.16 L853.61,213.64 L854.30,215.07 L854.99,216.45 L855.68,217.78 L856.37,219.05 L857.07,220.28 L857.76,221.44 L858.45,222.54 L859.14,223.57 L859.83,224.54 L860.52,225.44 L861.21,226.27 L861.91,227.03 L862.60,227.72 L863.29,228.33 L863.98,228.86 L864.67,229.32 L865.36,229.71 L866.06,230.02 L866.75,230.25 L867.44,230.40 L868.13,230.48 L868.82,230.48 L869.51,230.41 L870.21,230.26 L870.90,230.04 L871.59,229.74 L872.28,229.38 L872.97,228.95 L873.66,228.44 L874.36,227.88 L875.05,227.25 L875.74,226.56 L876.43,225.81 L877.12,225.01 L877.81,224.15 L878.50,223.24 L879.20,222.29 L879.89,221.29 L880.58,220.25 L881.27,219.17 L881.96,218.05 L882.65,216.91 L883.35,215.73 L884.04,214.53 L884.73,213.31 L885.42,212.07 L886.11,210.81 L886.80,209.55 L887.50,208.27 L888.19,206.99 L888.88,205.72 L889.57,204.44 L890.26,203.17 L890.95,201.91 L891.65,200.66 L892.34,199.42 L893.03,198.21 L893.72,197.02 L894.41,195.85 L895.10,194.71 L895.80,193.60 L896.49,192.52 L897.18,191.48 L897.87,190.48 L898.56,189.52 L899.25,188.60 L899.94,187.73 L900.64,186.90 L901.33,186.12 L902.02,185.39 L902.71,184.72 L903.40,184.09 L904.09,183.52 L904.79,183.01 L905.48,182.55 L906.17,182.15 L906.86,181.81 L907.55,181.52 L908.24,181.29 L908.94,181.12 L909.63,181.01 L910.32,180.95 L911.01,180.95 L911.70,181.01 L912.39,181.13 L913.09,181.30 L913.78,181.52 L914.47,181.80 L915.16,182.13 L915.85,182.51 L916.54,182.94 L917.23,183.42 L917.93,183.94 L918.62,184.51 L919.31,185.11 L920.00,185.76 L920.69,186.45 L921.38,187.17 L922.08,187.93 L922.77,188.72 L923.46,189.53 L924.15,190.37 L924.84,191.24 L925.53,192.13 L926.23,193.03 L926.92,193.96 L927.61,194.89 L928.30,195.84 L928.99,196.80 L929.68,197.76 L930.38,198.72 L931.07,199.69 L931.76,200.65 L932.45,201.61 L933.14,202.56 L933.83,203.50 L934.53,204.43 L935.22,205.35 L935.91,206.25 L936.60,207.13 L937.29,207.99 L937.98,208.82 L938.67,209.63 L939.37,210.41 L940.06,211.17 L940.75,211.89 L941.44,212.58 L942.13,213.24 L942.82,213.86 L943.52,214.45 L944.21,215.00 L944.90,215.50 L945.59,215.97 L946.28,216.40 L946.97,216.78 L947.67,217.13 L948.36,217.43 L949.05,217.69 L949.74,217.90 L950.43,218.07 L951.12,218.20 L951.82,218.28 L952.51,218.32 L953.20,218.32 L953.89,218.27 L954.58,218.18 L955.27,218.05 L955.96,217.88 L956.66,217.67 L957.35,217.41 L958.04,217.13 L958.73,216.80 L959.42,216.44 L960.11,216.04 L960.81,215.61 L961.50,215.15 L962.19,214.66 L962.88,214.14 L963.57,213.59 L964.26,213.02 L964.96,212.43 L965.65,211.81 L966.34,211.17 L967.03,210.52 L967.72,209.85 L968.41,209.16 L969.11,208.47 L969.80,207.76 L970.49,207.05 L971.18,206.32 L971.87,205.60 L972.56,204.87 L973.26,204.14 L973.95,203.42 L974.64,202.69 L975.33,201.98 L976.02,201.27 L976.71,200.56 L977.40,199.87 L978.10,199.20 L978.79,198.53 L979.48,197.89 L980.17,197.26 L980.86,196.65 L981.55,196.06 L982.25,195.49 L982.94,194.95 L983.63,194.43 L984.32,193.93 L985.01,193.46 L985.70,193.02 L986.40,192.61 L987.09,192.23 L987.78,191.88 L988.47,191.56 L989.16,191.27 L989.85,191.01 L990.55,190.79 L991.24,190.59 L991.93,190.43 L992.62,190.31 L993.31,190.21 L994.00,190.15 L994.69,190.13 L995.39,190.13 L996.08,190.17 L996.77,190.24 L997.46,190.34 L998.15,190.47 L998.84,190.63 L999.54,190.82 L1000.23,191.04 L1000.92,191.29 L1001.61,191.56 L1002.30,191.86 L1002.99,192.19 L1003.69,192.54 L1004.38,192.91 L1005.07,193.30 L1005.76,193.71 L1006.45,194.15 L1007.14,194.60 L1007.84,195.06 L1008.53,195.54 L1009.22,196.04 L1009.91,196.54 L1010.60,197.06 L1011.29,197.59 L1011.99,198.12 L1012.68,198.66 L1013.37,199.21 L1014.06,199.75 L1014.75,200.30 L1015.44,200.85 L1016.13,201.40 L1016.83,201.95 L1017.52,202.49 L1018.21,203.02 L1018.90,203.55 L1019.59,204.07 L1020.28,204.58 L1020.98,205.08 L1021.67,205.57 L1022.36,206.04 L1023.05,206.50 L1023.74,206.95 L1024.43,207.37 L1025.13,207.78 L1025.82,208.17 L1026.51,208.55 L1027.20,208.90 L1027.89,209.23 L1028.58,209.54 L1029.28,209.82 L1029.97,210.09 L1030.66,210.33 L1031.35,210.55 L1032.04,210.74 L1032.73,210.91 L1033.42,211.05 L1034.12,211.17 L1034.81,211.26 L1035.50,211.33 L1036.19,211.38 L1036.88,211.40 L1037.57,211.39 L1038.27,211.36 L1038.96,211.31 L1039.65,211.23 L1040.34,211.13 L1041.03,211.01 L1041.72,210.86 L1042.42,210.70 L1043.11,210.51 L1043.80,210.30 L1044.49,210.07 L1045.18,209.83 L1045.87,209.56 L1046.57,209.28 L1047.26,208.98 L1047.95,208.67 L1048.64,208.35 L1049.33,208.01 L1050.02,207.65 L1050.72,207.29 L1051.41,206.92 L1052.10,206.53 L1052.79,206.14 L1053.48,205.75 L1054.17,205.34 L1054.86,204.93 L1055.56,204.52 L1056.25,204.11 L1056.94,203.70 L1057.63,203.28 L1058.32,202.87 L1059.01,202.46 L1059.71,202.05 L1060.40,201.65 L1061.09,201.25 L1061.78,200.86 L1062.47,200.47 L1063.16,200.09 L1063.86,199.73 L1064.55,199.37 L1065.24,199.02 L1065.93,198.69 L1066.62,198.37 L1067.31,198.06 L1068.01,197.77 L1068.70,197.49 L1069.39,197.22 L1070.08,196.97 L1070.77,196.74 L1071.46,196.52 L1072.15,196.33 L1072.85,196.15 L1073.54,195.98 L1074.23,195.84 L1074.92,195.71 L1075.61,195.61 L1076.30,195.52 L1077.00,195.45 L1077.69,195.40 L1078.38,195.36 L1079.07,195.35 L1079.76,195.35 L1080.45,195.38 L1081.15,195.42 L1081.84,195.48 L1082.53,195.55 L1083.22,195.65 L1083.91,195.76 L1084.60,195.88 L1085.30,196.03 L1085.99,196.18 L1086.68,196.36 L1087.37,196.54 L1088.06,196.74 L1088.75,196.96 L1089.45,197.18 L1090.14,197.42 L1090.83,197.67 L1091.52,197.92 L1092.21,198.19 L1092.90,198.46 L1093.59,198.75 L1094.29,199.03" fill="none" stroke="#1f77b4" stroke-width="4.60" stroke-dasharray="14 9.3" stroke-dashoffset="0.00" stroke-linejoin="round"/>
<path d="M680.01,202.73 L680.71,204.42 L681.40,206.10 L682.09,207.77 L682.78,209.42 L683.47,211.05 L684.16,212.65 L684.85,214.22 L685.55,215.74 L686.24,217.22 L686.93,218.64 L687.62,220.00 L688.31,221.30 L689.00,222.52 L689.70,223.67 L690.39,224.74 L691.08,225.72 L691.77,226.62 L692.46,227.42 L693.15,228.13 L693.85,228.73 L694.54,229.24 L695.23,229.65 L695.92,229.95 L696.61,230.14 L697.30,230.23 L698.00,230.21 L698.69,230.06 L699.38,229.78 L700.07,229.37 L700.76,228.84 L701.45,228.19 L702.15,227.41 L702.84,226.50 L703.53,225.48 L704.22,224.34 L704.91,223.09 L705.60,221.72 L706.29,220.25 L706.99,218.67 L707.68,216.99 L708.37,215.21 L709.06,213.33 L709.75,211.37 L710.44,209.32 L711.14,207.19 L711.83,204.98 L712.52,202.70 L713.21,200.36 L713.90,197.96 L714.59,195.50 L715.29,192.99 L715.98,190.44 L716.67,187.85 L717.36,185.23 L718.05,182.59 L718.74,179.92 L719.44,177.24 L720.13,174.55 L720.82,171.86 L721.51,169.17 L722.20,166.50 L722.89,163.84 L723.58,161.20 L724.28,158.59 L724.97,156.02 L725.66,153.48 L726.35,151.00 L727.04,148.56 L727.73,146.18 L728.43,143.87 L729.12,141.62 L729.81,139.44 L730.50,137.35 L731.19,135.33 L731.88,133.40 L732.58,131.57 L733.27,129.83 L733.96,128.19 L734.65,126.65 L735.34,125.22 L736.03,123.90 L736.73,122.70 L737.42,121.61 L738.11,120.63 L738.80,119.78 L739.49,119.05 L740.18,118.45 L740.88,117.97 L741.57,117.62 L742.26,117.39 L742.95,117.29 L743.64,117.33 L744.33,117.50 L745.02,117.82 L745.72,118.27 L746.41,118.86 L747.10,119.59 L747.79,120.45 L748.48,121.45 L749.17,122.57 L749.87,123.81 L750.56,125.18 L751.25,126.66 L751.94,128.26 L752.63,129.96 L753.32,131.77 L754.02,133.67 L754.71,135.66 L755.40,137.74 L756.09,139.90 L756.78,142.13 L757.47,144.42 L758.17,146.78 L758.86,149.18 L759.55,151.63 L760.24,154.12 L760.93,156.63 L761.62,159.17 L762.31,161.72 L763.01,164.28 L763.70,166.84 L764.39,169.38 L765.08,171.91 L765.77,174.42 L766.46,176.89 L767.16,179.32 L767.85,181.71 L768.54,184.04 L769.23,186.31 L769.92,188.51 L770.61,190.64 L771.31,192.68 L772.00,194.64 L772.69,196.50 L773.38,198.27 L774.07,199.93 L774.76,201.48 L775.46,202.92 L776.15,204.24 L776.84,205.43 L777.53,206.50 L778.22,207.44 L778.91,208.25 L779.61,208.93 L780.30,209.46 L780.99,209.86 L781.68,210.12 L782.37,210.24 L783.06,210.23 L783.75,210.15 L784.45,209.99 L785.14,209.76 L785.83,209.46 L786.52,209.09 L787.21,208.65 L787.90,208.15 L788.60,207.58 L789.29,206.94 L789.98,206.24 L790.67,205.48 L791.36,204.67 L792.05,203.80 L792.75,202.87 L793.44,201.90 L794.13,200.88 L794.82,199.82 L795.51,198.72 L796.20,197.58 L796.90,196.41 L797.59,195.21 L798.28,193.99 L798.97,192.74 L799.66,191.48 L800.35,190.20 L801.04,188.91 L801.74,187.62 L802.43,186.33 L803.12,185.04 L803.81,183.76 L804.50,182.49 L805.19,181.23 L805.89,179.99 L806.58,178.78 L807.27,177.59 L807.96,176.44 L808.65,175.31 L809.34,174.23 L810.04,173.19 L810.73,172.19 L811.42,171.23 L812.11,170.33 L812.80,169.49 L813.49,168.69 L814.19,167.96 L814.88,167.29 L815.57,166.68 L816.26,166.14 L816.95,165.66 L817.64,165.25 L818.34,164.91 L819.03,164.64 L819.72,164.45 L820.41,164.32 L821.10,164.27 L821.79,164.30 L822.48,164.41 L823.18,164.62 L823.87,164.91 L824.56,165.30 L825.25,165.77 L825.94,166.33 L826.63,166.98 L827.33,167.71 L828.02,168.53 L828.71,169.43 L829.40,170.41 L830.09,171.47 L830.78,172.60 L831.48,173.81 L832.17,175.09 L832.86,176.44 L833.55,177.86 L834.24,179.35 L834.93,180.89 L835.63,182.50 L836.32,184.16 L837.01,185.87 L837.70,187.63 L838.39,189.44 L839.08,191.29 L839.77,193.18 L840.47,195.10 L841.16,197.06 L841.85,199.04 L842.54,201.05 L843.23,203.08 L843.92,205.13 L844.62,207.19 L845.31,209.25 L846.00,211.32 L846.69,213.40 L847.38,215.47 L848.07,217.53 L848.77,219.58 L849.46,221.62 L850.15,223.63 L850.84,225.63 L851.53,227.60 L852.22,229.53 L852.92,231.44 L853.61,233.31 L854.30,235.13 L854.99,236.91 L855.68,238.64 L856.37,240.33 L857.07,241.95 L857.76,243.52 L858.45,245.03 L859.14,246.48 L859.83,247.86 L860.52,249.17 L861.21,250.41 L861.91,251.57 L862.60,252.66 L863.29,253.68 L863.98,254.61 L864.67,255.46 L865.36,256.23 L866.06,256.91 L866.75,257.50 L867.44,258.01 L868.13,258.43 L868.82,258.77 L869.51,259.01 L870.21,259.16 L870.90,259.22 L871.59,259.20 L872.28,259.09 L872.97,258.90 L873.66,258.62 L874.36,258.27 L875.05,257.83 L875.74,257.32 L876.43,256.73 L877.12,256.07 L877.81,255.33 L878.50,254.52 L879.20,253.64 L879.89,252.69 L880.58,251.68 L881.27,250.61 L881.96,249.48 L882.65,248.30 L883.35,247.07 L884.04,245.79 L884.73,244.46 L885.42,243.10 L886.11,241.70 L886.80,240.27 L887.50,238.81 L888.19,237.32 L888.88,235.82 L889.57,234.30 L890.26,232.78 L890.95,231.24 L891.65,229.71 L892.34,228.17 L893.03,226.65 L893.72,225.14 L894.41,223.64 L895.10,222.17 L895.80,220.71 L896.49,219.29 L897.18,217.90 L897.87,216.55 L898.56,215.24 L899.25,213.98 L899.94,212.76 L900.64,211.60 L901.33,210.49 L902.02,209.44 L902.71,208.45 L903.40,207.53 L904.09,206.67 L904.79,205.88 L905.48,205.17 L906.17,204.53 L906.86,203.97 L907.55,203.48 L908.24,203.07 L908.94,202.75 L909.63,202.50 L910.32,202.34 L911.01,202.26 L911.70,202.26 L912.39,202.32 L913.09,202.44 L913.78,202.63 L914.47,202.87 L915.16,203.18 L915.85,203.54 L916.54,203.96 L917.23,204.43 L917.93,204.96 L918.62,205.55 L919.31,206.18 L920.00,206.87 L920.69,207.60 L921.38,208.37 L922.08,209.19 L922.77,210.05 L923.46,210.95 L924.15,211.88 L924.84,212.85 L925.53,213.84 L926.23,214.86 L926.92,215.91 L927.61,216.98 L928.30,218.06 L928.99,219.15 L929.68,220.26 L930.38,221.38 L931.07,222.49 L931.76,223.61 L932.45,224.73 L933.14,225.84 L933.83,226.94 L934.53,228.03 L935.22,229.11 L935.91,230.16 L936.60,231.19 L937.29,232.20 L937.98,233.18 L938.67,234.13 L939.37,235.04 L940.06,235.92 L940.75,236.75 L941.44,237.55 L942.13,238.30 L942.82,239.01 L943.52,239.66 L944.21,240.27 L944.90,240.82 L945.59,241.32 L946.28,241.76 L946.97,242.15 L947.67,242.48 L948.36,242.75 L949.05,242.96 L949.74,243.11 L950.43,243.20 L951.12,243.23 L951.82,243.18 L952.51,243.03 L953.20,242.79 L953.89,242.45 L954.58,242.01 L955.27,241.48 L955.96,240.87 L956.66,240.15 L957.35,239.36 L958.04,238.47 L958.73,237.50 L959.42,236.45 L960.11,235.32 L960.81,234.11 L961.50,232.83 L962.19,231.48 L962.88,230.06 L963.57,228.58 L964.26,227.04 L964.96,225.44 L965.65,223.80 L966.34,222.10 L967.03,220.37 L967.72,218.59 L968.41,216.78 L969.11,214.94 L969.80,213.08 L970.49,211.20 L971.18,209.30 L971.87,207.39 L972.56,205.48 L973.26,203.56 L973.95,201.65 L974.64,199.75 L975.33,197.86 L976.02,196.00 L976.71,194.15 L977.40,192.33 L978.10,190.55 L978.79,188.80 L979.48,187.10 L980.17,185.44 L980.86,183.83 L981.55,182.28 L982.25,180.78 L982.94,179.35 L983.63,177.98 L984.32,176.69 L985.01,175.46 L985.70,174.31 L986.40,173.24 L987.09,172.25 L987.78,171.34 L988.47,170.52 L989.16,169.79 L989.85,169.15 L990.55,168.60 L991.24,168.15 L991.93,167.78 L992.62,167.52 L993.31,167.35 L994.00,167.27 L994.69,167.28 L995.39,167.35 L996.08,167.47 L996.77,167.65 L997.46,167.89 L998.15,168.18 L998.84,168.52 L999.54,168.91 L1000.23,169.36 L1000.92,169.85 L1001.61,170.40 L1002.30,170.98 L1002.99,171.62 L1003.69,172.29 L1004.38,173.01 L1005.07,173.76 L1005.76,174.55 L1006.45,175.38 L1007.14,176.23 L1007.84,177.11 L1008.53,178.02 L1009.22,178.95 L1009.91,179.90 L1010.60,180.87 L1011.29,181.85 L1011.99,182.84 L1012.68,183.84 L1013.37,184.84 L1014.06,185.84 L1014.75,186.85 L1015.44,187.84 L1016.13,188.83 L1016.83,189.81 L1017.52,190.78 L1018.21,191.72 L1018.90,192.65 L1019.59,193.55 L1020.28,194.43 L1020.98,195.28 L1021.67,196.10 L1022.36,196.88 L1023.05,197.63 L1023.74,198.34 L1024.43,199.01 L1025.13,199.63 L1025.82,200.22 L1026.51,200.75 L1027.20,201.24 L1027.89,201.67 L1028.58,202.06 L1029.28,202.39 L1029.97,202.67 L1030.66,202.90 L1031.35,203.07 L1032.04,203.18 L1032.73,203.24 L1033.42,203.24 L1034.12,203.19 L1034.81,203.09 L1035.50,202.93 L1036.19,202.72 L1036.88,202.45 L1037.57,202.13 L1038.27,201.76 L1038.96,201.34 L1039.65,200.87 L1040.34,200.36 L1041.03,199.80 L1041.72,199.19 L1042.42,198.54 L1043.11,197.85 L1043.80,197.12 L1044.49,196.36 L1045.18,195.56 L1045.87,194.72 L1046.57,193.86 L1047.26,192.97 L1047.95,192.06 L1048.64,191.12 L1049.33,190.16 L1050.02,189.19 L1050.72,188.20 L1051.41,187.20 L1052.10,186.19 L1052.79,185.18 L1053.48,184.16 L1054.17,183.15 L1054.86,182.13 L1055.56,181.13 L1056.25,180.13 L1056.94,179.14 L1057.63,178.17 L1058.32,177.22 L1059.01,176.28 L1059.71,175.37 L1060.40,174.49 L1061.09,173.63 L1061.78,172.80 L1062.47,172.01 L1063.16,171.25 L1063.86,170.53 L1064.55,169.85 L1065.24,169.21 L1065.93,168.61 L1066.62,168.06 L1067.31,167.55 L1068.01,167.09 L1068.70,166.68 L1069.39,166.32 L1070.08,166.01 L1070.77,165.76 L1071.46,165.55 L1072.15,165.41 L1072.85,165.31 L1073.54,165.27 L1074.23,165.28 L1074.92,165.35 L1075.61,165.47 L1076.30,165.65 L1077.00,165.88 L1077.69,166.16 L1078.38,166.49 L1079.07,166.88 L1079.76,167.31 L1080.45,167.80 L1081.15,168.33 L1081.84,168.90 L1082.53,169.52 L1083.22,170.18 L1083.91,170.88 L1084.60,171.62 L1085.30,172.39 L1085.99,173.20 L1086.68,174.04 L1087.37,174.91 L1088.06,175.80 L1088.75,176.72 L1089.45,177.66 L1090.14,178.61 L1090.83,179.58 L1091.52,180.57 L1092.21,181.56 L1092.90,182.56 L1093.59,183.56 L1094.29,184.57" fill="none" stroke="#ff7f0e" stroke-width="4.60" stroke-dasharray="14 9.3" stroke-dashoffset="4.65" stroke-linejoin="round"/>
<path d="M680.01,202.73 L680.71,204.42 L681.40,206.10 L682.09,207.77 L682.78,209.42 L683.47,211.05 L684.16,212.65 L684.85,214.22 L685.55,215.74 L686.24,217.22 L686.93,218.64 L687.62,220.00 L688.31,221.30 L689.00,222.52 L689.70,223.67 L690.39,224.74 L691.08,225.72 L691.77,226.62 L692.46,227.42 L693.15,228.13 L693.85,228.73 L694.54,229.24 L695.23,229.65 L695.92,229.95 L696.61,230.14 L697.30,230.23 L698.00,230.21 L698.69,230.06 L699.38,229.78 L700.07,229.37 L700.76,228.84 L701.45,228.19 L702.15,227.41 L702.84,226.50 L703.53,225.48 L704.22,224.34 L704.91,223.09 L705.60,221.72 L706.29,220.25 L706.99,218.67 L707.68,216.99 L708.37,215.21 L709.06,213.33 L709.75,211.37 L710.44,209.32 L711.14,207.19 L711.83,204.98 L712.52,202.70 L713.21,200.36 L713.90,197.96 L714.59,195.50 L715.29,192.99 L715.98,190.44 L716.67,187.85 L717.36,185.23 L718.05,182.59 L718.74,179.92 L719.44,177.24 L720.13,174.55 L720.82,171.86 L721.51,169.17 L722.20,166.50 L722.89,163.84 L723.58,161.20 L724.28,158.59 L724.97,156.02 L725.66,153.48 L726.35,151.00 L727.04,148.56 L727.73,146.18 L728.43,143.87 L729.12,141.62 L729.81,139.44 L730.50,137.35 L731.19,135.33 L731.88,133.40 L732.58,131.57 L733.27,129.83 L733.96,128.19 L734.65,126.65 L735.34,125.22 L736.03,123.90 L736.73,122.70 L737.42,121.61 L738.11,120.63 L738.80,119.78 L739.49,119.05 L740.18,118.45 L740.88,117.97 L741.57,117.62 L742.26,117.39 L742.95,117.29 L743.64,117.33 L744.33,117.50 L745.02,117.82 L745.72,118.27 L746.41,118.86 L747.10,119.59 L747.79,120.45 L748.48,121.45 L749.17,122.57 L749.87,123.81 L750.56,125.18 L751.25,126.66 L751.94,128.26 L752.63,129.96 L753.32,131.77 L754.02,133.67 L754.71,135.66 L755.40,137.74 L756.09,139.90 L756.78,142.13 L757.47,144.42 L758.17,146.78 L758.86,149.18 L759.55,151.63 L760.24,154.12 L760.93,156.63 L761.62,159.17 L762.31,161.72 L763.01,164.28 L763.70,166.84 L764.39,169.38 L765.08,171.91 L765.77,174.42 L766.46,176.89 L767.16,179.32 L767.85,181.71 L768.54,184.04 L769.23,186.31 L769.92,188.51 L770.61,190.64 L771.31,192.68 L772.00,194.64 L772.69,196.50 L773.38,198.27 L774.07,199.93 L774.76,201.48 L775.46,202.92 L776.15,204.24 L776.84,205.43 L777.53,206.50 L778.22,207.44 L778.91,208.25 L779.61,208.93 L780.30,209.46 L780.99,209.86 L781.68,210.12 L782.37,210.24 L783.06,210.23 L783.75,210.15 L784.45,209.99 L785.14,209.76 L785.83,209.46 L786.52,209.09 L787.21,208.65 L787.90,208.15 L788.60,207.58 L789.29,206.94 L789.98,206.24 L790.67,205.48 L791.36,204.67 L792.05,203.80 L792.75,202.87 L793.44,201.90 L794.13,200.88 L794.82,199.82 L795.51,198.72 L796.20,197.58 L796.90,196.41 L797.59,195.21 L798.28,193.99 L798.97,192.74 L799.66,191.48 L800.35,190.20 L801.04,188.91 L801.74,187.62 L802.43,186.33 L803.12,185.04 L803.81,183.76 L804.50,182.49 L805.19,181.23 L805.89,179.99 L806.58,178.78 L807.27,177.59 L807.96,176.44 L808.65,175.31 L809.34,174.23 L810.04,173.19 L810.73,172.19 L811.42,171.23 L812.11,170.33 L812.80,169.49 L813.49,168.69 L814.19,167.96 L814.88,167.29 L815.57,166.68 L816.26,166.14 L816.95,165.66 L817.64,165.25 L818.34,164.91 L819.03,164.64 L819.72,164.45 L820.41,164.32 L821.10,164.27 L821.79,164.30 L822.48,164.41 L823.18,164.62 L823.87,164.91 L824.56,165.30 L825.25,165.77 L825.94,166.33 L826.63,166.98 L827.33,167.71 L828.02,168.53 L828.71,169.43 L829.40,170.41 L830.09,171.47 L830.78,172.60 L831.48,173.81 L832.17,175.09 L832.86,176.44 L833.55,177.86 L834.24,179.35 L834.93,180.89 L835.63,182.50 L836.32,184.16 L837.01,185.87 L837.70,187.63 L838.39,189.44 L839.08,191.29 L839.77,193.18 L840.47,195.10 L841.16,197.06 L841.85,199.04 L842.54,201.05 L843.23,203.08 L843.92,205.13 L844.62,207.19 L845.31,209.25 L846.00,211.32 L846.69,213.40 L847.38,215.47 L848.07,217.53 L848.77,219.58 L849.46,221.62 L850.15,223.63 L850.84,225.63 L851.53,227.60 L852.22,229.53 L852.92,231.44 L853.61,233.31 L854.30,235.13 L854.99,236.91 L855.68,238.64 L856.37,240.33 L857.07,241.95 L857.76,243.52 L858.45,245.03 L859.14,246.48 L859.83,247.86 L860.52,249.17 L861.21,250.41 L861.91,251.57 L862.60,252.66 L863.29,253.68 L863.98,254.61 L864.67,255.46 L865.36,256.23 L866.06,256.91 L866.75,257.50 L867.44,258.01 L868.13,258.43 L868.82,258.77 L869.51,259.01 L870.21,259.16 L870.90,259.22 L871.59,259.20 L872.28,259.09 L872.97,258.90 L873.66,258.62 L874.36,258.27 L875.05,257.83 L875.74,257.32 L876.43,256.73 L877.12,256.07 L877.81,255.33 L878.50,254.52 L879.20,253.64 L879.89,252.69 L880.58,251.68 L881.27,250.61 L881.96,249.48 L882.65,248.30 L883.35,247.07 L884.04,245.79 L884.73,244.46 L885.42,243.10 L886.11,241.70 L886.80,240.27 L887.50,238.81 L888.19,237.32 L888.88,235.82 L889.57,234.30 L890.26,232.78 L890.95,231.24 L891.65,229.71 L892.34,228.17 L893.03,226.65 L893.72,225.14 L894.41,223.64 L895.10,222.17 L895.80,220.71 L896.49,219.29 L897.18,217.90 L897.87,216.55 L898.56,215.24 L899.25,213.98 L899.94,212.76 L900.64,211.60 L901.33,210.49 L902.02,209.44 L902.71,208.45 L903.40,207.53 L904.09,206.67 L904.79,205.88 L905.48,205.17 L906.17,204.53 L906.86,203.97 L907.55,203.48 L908.24,203.07 L908.94,202.75 L909.63,202.50 L910.32,202.34 L911.01,202.26 L911.70,202.26 L912.39,202.32 L913.09,202.44 L913.78,202.63 L914.47,202.87 L915.16,203.18 L915.85,203.54 L916.54,203.96 L917.23,204.43 L917.93,204.96 L918.62,205.55 L919.31,206.18 L920.00,206.87 L920.69,207.60 L921.38,208.37 L922.08,209.19 L922.77,210.05 L923.46,210.95 L924.15,211.88 L924.84,212.85 L925.53,213.84 L926.23,214.86 L926.92,215.91 L927.61,216.98 L928.30,218.06 L928.99,219.15 L929.68,220.26 L930.38,221.38 L931.07,222.49 L931.76,223.61 L932.45,224.73 L933.14,225.84 L933.83,226.94 L934.53,228.03 L935.22,229.11 L935.91,230.16 L936.60,231.19 L937.29,232.20 L937.98,233.18 L938.67,234.13 L939.37,235.04 L940.06,235.92 L940.75,236.75 L941.44,237.55 L942.13,238.30 L942.82,239.01 L943.52,239.66 L944.21,240.27 L944.90,240.82 L945.59,241.32 L946.28,241.76 L946.97,242.15 L947.67,242.48 L948.36,242.75 L949.05,242.96 L949.74,243.11 L950.43,243.20 L951.12,243.23 L951.82,243.18 L952.51,243.03 L953.20,242.79 L953.89,242.45 L954.58,242.01 L955.27,241.48 L955.96,240.87 L956.66,240.15 L957.35,239.36 L958.04,238.47 L958.73,237.50 L959.42,236.45 L960.11,235.32 L960.81,234.11 L961.50,232.83 L962.19,231.48 L962.88,230.06 L963.57,228.58 L964.26,227.04 L964.96,225.44 L965.65,223.80 L966.34,222.10 L967.03,220.37 L967.72,218.59 L968.41,216.78 L969.11,214.94 L969.80,213.08 L970.49,211.20 L971.18,209.30 L971.87,207.39 L972.56,205.48 L973.26,203.56 L973.95,201.65 L974.64,199.75 L975.33,197.86 L976.02,196.00 L976.71,194.15 L977.40,192.33 L978.10,190.55 L978.79,188.80 L979.48,187.10 L980.17,185.44 L980.86,183.83 L981.55,182.28 L982.25,180.78 L982.94,179.35 L983.63,177.98 L984.32,176.69 L985.01,175.46 L985.70,174.31 L986.40,173.24 L987.09,172.25 L987.78,171.34 L988.47,170.52 L989.16,169.79 L989.85,169.15 L990.55,168.60 L991.24,168.15 L991.93,167.78 L992.62,167.52 L993.31,167.35 L994.00,167.27 L994.69,167.28 L995.39,167.35 L996.08,167.47 L996.77,167.65 L997.46,167.89 L998.15,168.18 L998.84,168.52 L999.54,168.91 L1000.23,169.36 L1000.92,169.85 L1001.61,170.40 L1002.30,170.98 L1002.99,171.62 L1003.69,172.29 L1004.38,173.01 L1005.07,173.76 L1005.76,174.55 L1006.45,175.38 L1007.14,176.23 L1007.84,177.11 L1008.53,178.02 L1009.22,178.95 L1009.91,179.90 L1010.60,180.87 L1011.29,181.85 L1011.99,182.84 L1012.68,183.84 L1013.37,184.84 L1014.06,185.84 L1014.75,186.85 L1015.44,187.84 L1016.13,188.83 L1016.83,189.81 L1017.52,190.78 L1018.21,191.72 L1018.90,192.65 L1019.59,193.55 L1020.28,194.43 L1020.98,195.28 L1021.67,196.10 L1022.36,196.88 L1023.05,197.63 L1023.74,198.34 L1024.43,199.01 L1025.13,199.63 L1025.82,200.22 L1026.51,200.75 L1027.20,201.24 L1027.89,201.67 L1028.58,202.06 L1029.28,202.39 L1029.97,202.67 L1030.66,202.90 L1031.35,203.07 L1032.04,203.18 L1032.73,203.24 L1033.42,203.24 L1034.12,203.19 L1034.81,203.09 L1035.50,202.93 L1036.19,202.72 L1036.88,202.45 L1037.57,202.13 L1038.27,201.76 L1038.96,201.34 L1039.65,200.87 L1040.34,200.36 L1041.03,199.80 L1041.72,199.19 L1042.42,198.54 L1043.11,197.85 L1043.80,197.12 L1044.49,196.36 L1045.18,195.56 L1045.87,194.72 L1046.57,193.86 L1047.26,192.97 L1047.95,192.06 L1048.64,191.12 L1049.33,190.16 L1050.02,189.19 L1050.72,188.20 L1051.41,187.20 L1052.10,186.19 L1052.79,185.18 L1053.48,184.16 L1054.17,183.15 L1054.86,182.13 L1055.56,181.13 L1056.25,180.13 L1056.94,179.14 L1057.63,178.17 L1058.32,177.22 L1059.01,176.28 L1059.71,175.37 L1060.40,174.49 L1061.09,173.63 L1061.78,172.80 L1062.47,172.01 L1063.16,171.25 L1063.86,170.53 L1064.55,169.85 L1065.24,169.21 L1065.93,168.61 L1066.62,168.06 L1067.31,167.55 L1068.01,167.09 L1068.70,166.68 L1069.39,166.32 L1070.08,166.01 L1070.77,165.76 L1071.46,165.55 L1072.15,165.41 L1072.85,165.31 L1073.54,165.27 L1074.23,165.28 L1074.92,165.35 L1075.61,165.47 L1076.30,165.65 L1077.00,165.88 L1077.69,166.16 L1078.38,166.49 L1079.07,166.88 L1079.76,167.31 L1080.45,167.80 L1081.15,168.33 L1081.84,168.90 L1082.53,169.52 L1083.22,170.18 L1083.91,170.88 L1084.60,171.62 L1085.30,172.39 L1085.99,173.20 L1086.68,174.04 L1087.37,174.91 L1088.06,175.80 L1088.75,176.72 L1089.45,177.66 L1090.14,178.61 L1090.83,179.58 L1091.52,180.57 L1092.21,181.56 L1092.90,182.56 L1093.59,183.56 L1094.29,184.57" fill="none" stroke="#2ca02c" stroke-width="4.60" stroke-dasharray="14 9.3" stroke-dashoffset="9.30" stroke-linejoin="round"/>
<path d="M96.31,436.71L115.11,455.51M96.31,455.51L115.11,436.71M124.12,436.71L142.92,455.51M124.12,455.51L142.92,436.71M151.92,437.71L170.72,456.51M151.92,456.51L170.72,437.71M179.72,429.52L198.52,448.32M179.72,448.32L198.52,429.52M207.53,431.52L226.33,450.32M207.53,450.32L226.33,431.52M235.33,421.94L254.13,440.74M235.33,440.74L254.13,421.94M263.13,423.73L281.93,442.53M263.13,442.53L281.93,423.73M290.94,421.34L309.74,440.14M290.94,440.14L309.74,421.34M318.74,422.53L337.54,441.33M318.74,441.33L337.54,422.53M346.55,415.45L365.35,434.25M346.55,434.25L365.35,415.45M374.35,412.75L393.15,431.55M374.35,431.55L393.15,412.75M402.15,412.35L420.95,431.15M402.15,431.15L420.95,412.35M429.96,411.36L448.76,430.16M429.96,430.16L448.76,411.36M457.76,410.36L476.56,429.16M457.76,429.16L476.56,410.36M485.56,413.35L504.36,432.15M485.56,432.15L504.36,413.35" stroke="#000" stroke-width="4.6" fill="none"/>
<path d="M105.71,450.20 L106.41,450.12 L107.10,450.05 L107.79,449.97 L108.48,449.89 L109.17,449.81 L109.86,449.74 L110.55,449.66 L111.25,449.58 L111.94,449.51 L112.63,449.43 L113.32,449.35 L114.01,449.28 L114.70,449.20 L115.40,449.12 L116.09,449.05 L116.78,448.97 L117.47,448.89 L118.16,448.82 L118.85,448.74 L119.55,448.67 L120.24,448.59 L120.93,448.51 L121.62,448.44 L122.31,448.36 L123.00,448.29 L123.70,448.21 L124.39,448.14 L125.08,448.06 L125.77,447.99 L126.46,447.91 L127.15,447.84 L127.85,447.76 L128.54,447.69 L129.23,447.61 L129.92,447.54 L130.61,447.46 L131.30,447.39 L131.99,447.31 L132.69,447.24 L133.38,447.16 L134.07,447.09 L134.76,447.01 L135.45,446.94 L136.14,446.87 L136.84,446.79 L137.53,446.72 L138.22,446.64 L138.91,446.57 L139.60,446.50 L140.29,446.42 L140.99,446.35 L141.68,446.27 L142.37,446.20 L143.06,446.13 L143.75,446.05 L144.44,445.98 L145.14,445.91 L145.83,445.83 L146.52,445.76 L147.21,445.69 L147.90,445.62 L148.59,445.54 L149.28,445.47 L149.98,445.40 L150.67,445.32 L151.36,445.25 L152.05,445.18 L152.74,445.11 L153.43,445.03 L154.13,444.96 L154.82,444.89 L155.51,444.82 L156.20,444.75 L156.89,444.67 L157.58,444.60 L158.28,444.53 L158.97,444.46 L159.66,444.39 L160.35,444.31 L161.04,444.24 L161.73,444.17 L162.43,444.10 L163.12,444.03 L163.81,443.96 L164.50,443.89 L165.19,443.82 L165.88,443.74 L166.58,443.67 L167.27,443.60 L167.96,443.53 L168.65,443.46 L169.34,443.39 L170.03,443.32 L170.72,443.25 L171.42,443.18 L172.11,443.11 L172.80,443.04 L173.49,442.97 L174.18,442.90 L174.87,442.83 L175.57,442.76 L176.26,442.69 L176.95,442.62 L177.64,442.55 L178.33,442.48 L179.02,442.41 L179.72,442.34 L180.41,442.27 L181.10,442.20 L181.79,442.13 L182.48,442.06 L183.17,441.99 L183.87,441.92 L184.56,441.85 L185.25,441.78 L185.94,441.71 L186.63,441.64 L187.32,441.58 L188.01,441.51 L188.71,441.44 L189.40,441.37 L190.09,441.30 L190.78,441.23 L191.47,441.16 L192.16,441.10 L192.86,441.03 L193.55,440.96 L194.24,440.89 L194.93,440.82 L195.62,440.75 L196.31,440.69 L197.01,440.62 L197.70,440.55 L198.39,440.48 L199.08,440.41 L199.77,440.35 L200.46,440.28 L201.16,440.21 L201.85,440.14 L202.54,440.08 L203.23,440.01 L203.92,439.94 L204.61,439.87 L205.31,439.81 L206.00,439.74 L206.69,439.67 L207.38,439.61 L208.07,439.54 L208.76,439.47 L209.45,439.41 L210.15,439.34 L210.84,439.27 L211.53,439.21 L212.22,439.14 L212.91,439.07 L213.60,439.01 L214.30,438.94 L214.99,438.87 L215.68,438.81 L216.37,438.74 L217.06,438.68 L217.75,438.61 L218.45,438.54 L219.14,438.48 L219.83,438.41 L220.52,438.35 L221.21,438.28 L221.90,438.22 L222.60,438.15 L223.29,438.09 L223.98,438.02 L224.67,437.95 L225.36,437.89 L226.05,437.82 L226.74,437.76 L227.44,437.69 L228.13,437.63 L228.82,437.56 L229.51,437.50 L230.20,437.43 L230.89,437.37 L231.59,437.30 L232.28,437.24 L232.97,437.18 L233.66,437.11 L234.35,437.05 L235.04,436.98 L235.74,436.92 L236.43,436.85 L237.12,436.79 L237.81,436.73 L238.50,436.66 L239.19,436.60 L239.89,436.53 L240.58,436.47 L241.27,436.41 L241.96,436.34 L242.65,436.28 L243.34,436.22 L244.04,436.15 L244.73,436.09 L245.42,436.02 L246.11,435.96 L246.80,435.90 L247.49,435.84 L248.18,435.77 L248.88,435.71 L249.57,435.65 L250.26,435.58 L250.95,435.52 L251.64,435.46 L252.33,435.39 L253.03,435.33 L253.72,435.27 L254.41,435.21 L255.10,435.14 L255.79,435.08 L256.48,435.02 L257.18,434.96 L257.87,434.89 L258.56,434.83 L259.25,434.77 L259.94,434.71 L260.63,434.65 L261.33,434.58 L262.02,434.52 L262.71,434.46 L263.40,434.40 L264.09,434.34 L264.78,434.28 L265.47,434.21 L266.17,434.15 L266.86,434.09 L267.55,434.03 L268.24,433.97 L268.93,433.91 L269.62,433.85 L270.32,433.78 L271.01,433.72 L271.70,433.66 L272.39,433.60 L273.08,433.54 L273.77,433.48 L274.47,433.42 L275.16,433.36 L275.85,433.30 L276.54,433.24 L277.23,433.18 L277.92,433.12 L278.62,433.06 L279.31,432.99 L280.00,432.93 L280.69,432.87 L281.38,432.81 L282.07,432.75 L282.77,432.69 L283.46,432.63 L284.15,432.57 L284.84,432.51 L285.53,432.45 L286.22,432.39 L286.91,432.33 L287.61,432.28 L288.30,432.22 L288.99,432.16 L289.68,432.10 L290.37,432.04 L291.06,431.98 L291.76,431.92 L292.45,431.86 L293.14,431.80 L293.83,431.74 L294.52,431.68 L295.21,431.62 L295.91,431.56 L296.60,431.50 L297.29,431.45 L297.98,431.39 L298.67,431.33 L299.36,431.27 L300.06,431.21 L300.75,431.15 L301.44,431.09 L302.13,431.04 L302.82,430.98 L303.51,430.92 L304.20,430.86 L304.90,430.80 L305.59,430.74 L306.28,430.69 L306.97,430.63 L307.66,430.57 L308.35,430.51 L309.05,430.45 L309.74,430.40 L310.43,430.34 L311.12,430.28 L311.81,430.22 L312.50,430.17 L313.20,430.11 L313.89,430.05 L314.58,429.99 L315.27,429.94 L315.96,429.88 L316.65,429.82 L317.35,429.77 L318.04,429.71 L318.73,429.65 L319.42,429.59 L320.11,429.54 L320.80,429.48 L321.50,429.42 L322.19,429.37 L322.88,429.31 L323.57,429.25 L324.26,429.20 L324.95,429.14 L325.64,429.08 L326.34,429.03 L327.03,428.97 L327.72,428.91 L328.41,428.86 L329.10,428.80 L329.79,428.75 L330.49,428.69 L331.18,428.63 L331.87,428.58 L332.56,428.52 L333.25,428.47 L333.94,428.41 L334.64,428.35 L335.33,428.30 L336.02,428.24 L336.71,428.19 L337.40,428.13 L338.09,428.08 L338.79,428.02 L339.48,427.97 L340.17,427.91 L340.86,427.86 L341.55,427.80 L342.24,427.74 L342.93,427.69 L343.63,427.63 L344.32,427.58 L345.01,427.52 L345.70,427.47 L346.39,427.42 L347.08,427.36 L347.78,427.31 L348.47,427.25 L349.16,427.20 L349.85,427.14 L350.54,427.09 L351.23,427.03 L351.93,426.98 L352.62,426.92 L353.31,426.87 L354.00,426.82 L354.69,426.76 L355.38,426.71 L356.08,426.65 L356.77,426.60 L357.46,426.55 L358.15,426.49 L358.84,426.44 L359.53,426.38 L360.23,426.33 L360.92,426.28 L361.61,426.22 L362.30,426.17 L362.99,426.12 L363.68,426.06 L364.37,426.01 L365.07,425.96 L365.76,425.90 L366.45,425.85 L367.14,425.80 L367.83,425.74 L368.52,425.69 L369.22,425.64 L369.91,425.58 L370.60,425.53 L371.29,425.48 L371.98,425.42 L372.67,425.37 L373.37,425.32 L374.06,425.27 L374.75,425.21 L375.44,425.16 L376.13,425.11 L376.82,425.06 L377.52,425.00 L378.21,424.95 L378.90,424.90 L379.59,424.85 L380.28,424.79 L380.97,424.74 L381.66,424.69 L382.36,424.64 L383.05,424.59 L383.74,424.53 L384.43,424.48 L385.12,424.43 L385.81,424.38 L386.51,424.33 L387.20,424.28 L387.89,424.22 L388.58,424.17 L389.27,424.12 L389.96,424.07 L390.66,424.02 L391.35,423.97 L392.04,423.92 L392.73,423.86 L393.42,423.81 L394.11,423.76 L394.81,423.71 L395.50,423.66 L396.19,423.61 L396.88,423.56 L397.57,423.51 L398.26,423.46 L398.96,423.40 L399.65,423.35 L400.34,423.30 L401.03,423.25 L401.72,423.20 L402.41,423.15 L403.10,423.10 L403.80,423.05 L404.49,423.00 L405.18,422.95 L405.87,422.90 L406.56,422.85 L407.25,422.80 L407.95,422.75 L408.64,422.70 L409.33,422.65 L410.02,422.60 L410.71,422.55 L411.40,422.50 L412.10,422.45 L412.79,422.40 L413.48,422.35 L414.17,422.30 L414.86,422.25 L415.55,422.20 L416.25,422.15 L416.94,422.10 L417.63,422.05 L418.32,422.00 L419.01,421.95 L419.70,421.90 L420.39,421.85 L421.09,421.80 L421.78,421.76 L422.47,421.71 L423.16,421.66 L423.85,421.61 L424.54,421.56 L425.24,421.51 L425.93,421.46 L426.62,421.41 L427.31,421.36 L428.00,421.32 L428.69,421.27 L429.39,421.22 L430.08,421.17 L430.77,421.12 L431.46,421.07 L432.15,421.02 L432.84,420.98 L433.54,420.93 L434.23,420.88 L434.92,420.83 L435.61,420.78 L436.30,420.73 L436.99,420.69 L437.69,420.64 L438.38,420.59 L439.07,420.54 L439.76,420.49 L440.45,420.45 L441.14,420.40 L441.83,420.35 L442.53,420.30 L443.22,420.25 L443.91,420.21 L444.60,420.16 L445.29,420.11 L445.98,420.06 L446.68,420.02 L447.37,419.97 L448.06,419.92 L448.75,419.88 L449.44,419.83 L450.13,419.78 L450.83,419.73 L451.52,419.69 L452.21,419.64 L452.90,419.59 L453.59,419.55 L454.28,419.50 L454.98,419.45 L455.67,419.40 L456.36,419.36 L457.05,419.31 L457.74,419.26 L458.43,419.22 L459.12,419.17 L459.82,419.12 L460.51,419.08 L461.20,419.03 L461.89,418.98 L462.58,418.94 L463.27,418.89 L463.97,418.85 L464.66,418.80 L465.35,418.75 L466.04,418.71 L466.73,418.66 L467.42,418.62 L468.12,418.57 L468.81,418.52 L469.50,418.48 L470.19,418.43 L470.88,418.39 L471.57,418.34 L472.27,418.29 L472.96,418.25 L473.65,418.20 L474.34,418.16 L475.03,418.11 L475.72,418.07 L476.42,418.02 L477.11,417.98 L477.80,417.93 L478.49,417.88 L479.18,417.84 L479.87,417.79 L480.56,417.75 L481.26,417.70 L481.95,417.66 L482.64,417.61 L483.33,417.57 L484.02,417.52 L484.71,417.48 L485.41,417.43 L486.10,417.39 L486.79,417.34 L487.48,417.30 L488.17,417.25 L488.86,417.21 L489.56,417.17 L490.25,417.12 L490.94,417.08 L491.63,417.03 L492.32,416.99 L493.01,416.94 L493.71,416.90 L494.40,416.85 L495.09,416.81 L495.78,416.77 L496.47,416.72 L497.16,416.68 L497.85,416.63 L498.55,416.59 L499.24,416.55 L499.93,416.50 L500.62,416.46 L501.31,416.41 L502.00,416.37 L502.70,416.33 L503.39,416.28 L504.08,416.24 L504.77,416.19 L505.46,416.15 L506.15,416.11 L506.85,416.06 L507.54,416.02 L508.23,415.98 L508.92,415.93 L509.61,415.89 L510.30,415.85 L511.00,415.80 L511.69,415.76 L512.38,415.72 L513.07,415.67 L513.76,415.63 L514.45,415.59 L515.15,415.55 L515.84,415.50 L516.53,415.46 L517.22,415.42 L517.91,415.37 L518.60,415.33 L519.29,415.29 L519.99,415.25" fill="none" stroke="#1f77b4" stroke-width="4.60" stroke-dasharray="14 9.3" stroke-dashoffset="0.00" stroke-linejoin="round"/>
<path d="M105.71,450.20 L106.41,450.12 L107.10,450.05 L107.79,449.97 L108.48,449.89 L109.17,449.81 L109.86,449.74 L110.55,449.66 L111.25,449.58 L111.94,449.51 L112.63,449.43 L113.32,449.35 L114.01,449.28 L114.70,449.20 L115.40,449.12 L116.09,449.05 L116.78,448.97 L117.47,448.89 L118.16,448.82 L118.85,448.74 L119.55,448.67 L120.24,448.59 L120.93,448.51 L121.62,448.44 L122.31,448.36 L123.00,448.29 L123.70,448.21 L124.39,448.14 L125.08,448.06 L125.77,447.99 L126.46,447.91 L127.15,447.84 L127.85,447.76 L128.54,447.69 L129.23,447.61 L129.92,447.54 L130.61,447.46 L131.30,447.39 L131.99,447.31 L132.69,447.24 L133.38,447.16 L134.07,447.09 L134.76,447.01 L135.45,446.94 L136.14,446.87 L136.84,446.79 L137.53,446.72 L138.22,446.64 L138.91,446.57 L139.60,446.50 L140.29,446.42 L140.99,446.35 L141.68,446.27 L142.37,446.20 L143.06,446.13 L143.75,446.05 L144.44,445.98 L145.14,445.91 L145.83,445.83 L146.52,445.76 L147.21,445.69 L147.90,445.62 L148.59,445.54 L149.28,445.47 L149.98,445.40 L150.67,445.32 L151.36,445.25 L152.05,445.18 L152.74,445.11 L153.43,445.03 L154.13,444.96 L154.82,444.89 L155.51,444.82 L156.20,444.75 L156.89,444.67 L157.58,444.60 L158.28,444.53 L158.97,444.46 L159.66,444.39 L160.35,444.31 L161.04,444.24 L161.73,444.17 L162.43,444.10 L163.12,444.03 L163.81,443.96 L164.50,443.89 L165.19,443.82 L165.88,443.74 L166.58,443.67 L167.27,443.60 L167.96,443.53 L168.65,443.46 L169.34,443.39 L170.03,443.32 L170.72,443.25 L171.42,443.18 L172.11,443.11 L172.80,443.04 L173.49,442.97 L174.18,442.90 L174.87,442.83 L175.57,442.76 L176.26,442.69 L176.95,442.62 L177.64,442.55 L178.33,442.48 L179.02,442.41 L179.72,442.34 L180.41,442.27 L181.10,442.20 L181.79,442.13 L182.48,442.06 L183.17,441.99 L183.87,441.92 L184.56,441.85 L185.25,441.78 L185.94,441.71 L186.63,441.64 L187.32,441.58 L188.01,441.51 L188.71,441.44 L189.40,441.37 L190.09,441.30 L190.78,441.23 L191.47,441.16 L192.16,441.10 L192.86,441.03 L193.55,440.96 L194.24,440.89 L194.93,440.82 L195.62,440.75 L196.31,440.69 L197.01,440.62 L197.70,440.55 L198.39,440.48 L199.08,440.41 L199.77,440.35 L200.46,440.28 L201.16,440.21 L201.85,440.14 L202.54,440.08 L203.23,440.01 L203.92,439.94 L204.61,439.87 L205.31,439.81 L206.00,439.74 L206.69,439.67 L207.38,439.61 L208.07,439.54 L208.76,439.47 L209.45,439.41 L210.15,439.34 L210.84,439.27 L211.53,439.21 L212.22,439.14 L212.91,439.07 L213.60,439.01 L214.30,438.94 L214.99,438.87 L215.68,438.81 L216.37,438.74 L217.06,438.68 L217.75,438.61 L218.45,438.54 L219.14,438.48 L219.83,438.41 L220.52,438.35 L221.21,438.28 L221.90,438.22 L222.60,438.15 L223.29,438.09 L223.98,438.02 L224.67,437.95 L225.36,437.89 L226.05,437.82 L226.74,437.76 L227.44,437.69 L228.13,437.63 L228.82,437.56 L229.51,437.50 L230.20,437.43 L230.89,437.37 L231.59,437.30 L232.28,437.24 L232.97,437.18 L233.66,437.11 L234.35,437.05 L235.04,436.98 L235.74,436.92 L236.43,436.85 L237.12,436.79 L237.81,436.73 L238.50,436.66 L239.19,436.60 L239.89,436.53 L240.58,436.47 L241.27,436.41 L241.96,436.34 L242.65,436.28 L243.34,436.22 L244.04,436.15 L244.73,436.09 L245.42,436.02 L246.11,435.96 L246.80,435.90 L247.49,435.84 L248.18,435.77 L248.88,435.71 L249.57,435.65 L250.26,435.58 L250.95,435.52 L251.64,435.46 L252.33,435.39 L253.03,435.33 L253.72,435.27 L254.41,435.21 L255.10,435.14 L255.79,435.08 L256.48,435.02 L257.18,434.96 L257.87,434.89 L258.56,434.83 L259.25,434.77 L259.94,434.71 L260.63,434.65 L261.33,434.58 L262.02,434.52 L262.71,434.46 L263.40,434.40 L264.09,434.34 L264.78,434.28 L265.47,434.21 L266.17,434.15 L266.86,434.09 L267.55,434.03 L268.24,433.97 L268.93,433.91 L269.62,433.85 L270.32,433.78 L271.01,433.72 L271.70,433.66 L272.39,433.60 L273.08,433.54 L273.77,433.48 L274.47,433.42 L275.16,433.36 L275.85,433.30 L276.54,433.24 L277.23,433.18 L277.92,433.12 L278.62,433.06 L279.31,432.99 L280.00,432.93 L280.69,432.87 L281.38,432.81 L282.07,432.75 L282.77,432.69 L283.46,432.63 L284.15,432.57 L284.84,432.51 L285.53,432.45 L286.22,432.39 L286.91,432.33 L287.61,432.28 L288.30,432.22 L288.99,432.16 L289.68,432.10 L290.37,432.04 L291.06,431.98 L291.76,431.92 L292.45,431.86 L293.14,431.80 L293.83,431.74 L294.52,431.68 L295.21,431.62 L295.91,431.56 L296.60,431.50 L297.29,431.45 L297.98,431.39 L298.67,431.33 L299.36,431.27 L300.06,431.21 L300.75,431.15 L301.44,431.09 L302.13,431.04 L302.82,430.98 L303.51,430.92 L304.20,430.86 L304.90,430.80 L305.59,430.74 L306.28,430.69 L306.97,430.63 L307.66,430.57 L308.35,430.51 L309.05,430.45 L309.74,430.40 L310.43,430.34 L311.12,430.28 L311.81,430.22 L312.50,430.17 L313.20,430.11 L313.89,430.05 L314.58,429.99 L315.27,429.94 L315.96,429.88 L316.65,429.82 L317.35,429.77 L318.04,429.71 L318.73,429.65 L319.42,429.59 L320.11,429.54 L320.80,429.48 L321.50,429.42 L322.19,429.37 L322.88,429.31 L323.57,429.25 L324.26,429.20 L324.95,429.14 L325.64,429.08 L326.34,429.03 L327.03,428.97 L327.72,428.91 L328.41,428.86 L329.10,428.80 L329.79,428.75 L330.49,428.69 L331.18,428.63 L331.87,428.58 L332.56,428.52 L333.25,428.47 L333.94,428.41 L334.64,428.35 L335.33,428.30 L336.02,428.24 L336.71,428.19 L337.40,428.13 L338.09,428.08 L338.79,428.02 L339.48,427.97 L340.17,427.91 L340.86,427.86 L341.55,427.80 L342.24,427.74 L342.93,427.69 L343.63,427.63 L344.32,427.58 L345.01,427.52 L345.70,427.47 L346.39,427.42 L347.08,427.36 L347.78,427.31 L348.47,427.25 L349.16,427.20 L349.85,427.14 L350.54,427.09 L351.23,427.03 L351.93,426.98 L352.62,426.92 L353.31,426.87 L354.00,426.82 L354.69,426.76 L355.38,426.71 L356.08,426.65 L356.77,426.60 L357.46,426.55 L358.15,426.49 L358.84,426.44 L359.53,426.38 L360.23,426.33 L360.92,426.28 L361.61,426.22 L362.30,426.17 L362.99,426.12 L363.68,426.06 L364.37,426.01 L365.07,425.96 L365.76,425.90 L366.45,425.85 L367.14,425.80 L367.83,425.74 L368.52,425.69 L369.22,425.64 L369.91,425.58 L370.60,425.53 L371.29,425.48 L371.98,425.42 L372.67,425.37 L373.37,425.32 L374.06,425.27 L374.75,425.21 L375.44,425.16 L376.13,425.11 L376.82,425.06 L377.52,425.00 L378.21,424.95 L378.90,424.90 L379.59,424.85 L380.28,424.79 L380.97,424.74 L381.66,424.69 L382.36,424.64 L383.05,424.59 L383.74,424.53 L384.43,424.48 L385.12,424.43 L385.81,424.38 L386.51,424.33 L387.20,424.28 L387.89,424.22 L388.58,424.17 L389.27,424.12 L389.96,424.07 L390.66,424.02 L391.35,423.97 L392.04,423.92 L392.73,423.86 L393.42,423.81 L394.11,423.76 L394.81,423.71 L395.50,423.66 L396.19,423.61 L396.88,423.56 L397.57,423.51 L398.26,423.46 L398.96,423.40 L399.65,423.35 L400.34,423.30 L401.03,423.25 L401.72,423.20 L402.41,423.15 L403.10,423.10 L403.80,423.05 L404.49,423.00 L405.18,422.95 L405.87,422.90 L406.56,422.85 L407.25,422.80 L407.95,422.75 L408.64,422.70 L409.33,422.65 L410.02,422.60 L410.71,422.55 L411.40,422.50 L412.10,422.45 L412.79,422.40 L413.48,422.35 L414.17,422.30 L414.86,422.25 L415.55,422.20 L416.25,422.15 L416.94,422.10 L417.63,422.05 L418.32,422.00 L419.01,421.95 L419.70,421.90 L420.39,421.85 L421.09,421.80 L421.78,421.76 L422.47,421.71 L423.16,421.66 L423.85,421.61 L424.54,421.56 L425.24,421.51 L425.93,421.46 L426.62,421.41 L427.31,421.36 L428.00,421.32 L428.69,421.27 L429.39,421.22 L430.08,421.17 L430.77,421.12 L431.46,421.07 L432.15,421.02 L432.84,420.98 L433.54,420.93 L434.23,420.88 L434.92,420.83 L435.61,420.78 L436.30,420.73 L436.99,420.69 L437.69,420.64 L438.38,420.59 L439.07,420.54 L439.76,420.49 L440.45,420.45 L441.14,420.40 L441.83,420.35 L442.53,420.30 L443.22,420.25 L443.91,420.21 L444.60,420.16 L445.29,420.11 L445.98,420.06 L446.68,420.02 L447.37,419.97 L448.06,419.92 L448.75,419.88 L449.44,419.83 L450.13,419.78 L450.83,419.73 L451.52,419.69 L452.21,419.64 L452.90,419.59 L453.59,419.55 L454.28,419.50 L454.98,419.45 L455.67,419.40 L456.36,419.36 L457.05,419.31 L457.74,419.26 L458.43,419.22 L459.12,419.17 L459.82,419.12 L460.51,419.08 L461.20,419.03 L461.89,418.98 L462.58,418.94 L463.27,418.89 L463.97,418.85 L464.66,418.80 L465.35,418.75 L466.04,418.71 L466.73,418.66 L467.42,418.62 L468.12,418.57 L468.81,418.52 L469.50,418.48 L470.19,418.43 L470.88,418.39 L471.57,418.34 L472.27,418.29 L472.96,418.25 L473.65,418.20 L474.34,418.16 L475.03,418.11 L475.72,418.07 L476.42,418.02 L477.11,417.98 L477.80,417.93 L478.49,417.88 L479.18,417.84 L479.87,417.79 L480.56,417.75 L481.26,417.70 L481.95,417.66 L482.64,417.61 L483.33,417.57 L484.02,417.52 L484.71,417.48 L485.41,417.43 L486.10,417.39 L486.79,417.34 L487.48,417.30 L488.17,417.25 L488.86,417.21 L489.56,417.17 L490.25,417.12 L490.94,417.08 L491.63,417.03 L492.32,416.99 L493.01,416.94 L493.71,416.90 L494.40,416.85 L495.09,416.81 L495.78,416.77 L496.47,416.72 L497.16,416.68 L497.85,416.63 L498.55,416.59 L499.24,416.55 L499.93,416.50 L500.62,416.46 L501.31,416.41 L502.00,416.37 L502.70,416.33 L503.39,416.28 L504.08,416.24 L504.77,416.19 L505.46,416.15 L506.15,416.11 L506.85,416.06 L507.54,416.02 L508.23,415.98 L508.92,415.93 L509.61,415.89 L510.30,415.85 L511.00,415.80 L511.69,415.76 L512.38,415.72 L513.07,415.67 L513.76,415.63 L514.45,415.59 L515.15,415.55 L515.84,415.50 L516.53,415.46 L517.22,415.42 L517.91,415.37 L518.60,415.33 L519.29,415.29 L519.99,415.25" fill="none" stroke="#ff7f0e" stroke-width="4.60" stroke-dasharray="14 9.3" stroke-dashoffset="4.65" stroke-linejoin="round"/>
<path d="M105.71,450.20 L106.41,450.12 L107.10,450.05 L107.79,449.97 L108.48,449.89 L109.17,449.81 L109.86,449.74 L110.55,449.66 L111.25,449.58 L111.94,449.51 L112.63,449.43 L113.32,449.35 L114.01,449.28 L114.70,449.20 L115.40,449.12 L116.09,449.05 L116.78,448.97 L117.47,448.89 L118.16,448.82 L118.85,448.74 L119.55,448.67 L120.24,448.59 L120.93,448.51 L121.62,448.44 L122.31,448.36 L123.00,448.29 L123.70,448.21 L124.39,448.14 L125.08,448.06 L125.77,447.99 L126.46,447.91 L127.15,447.84 L127.85,447.76 L128.54,447.69 L129.23,447.61 L129.92,447.54 L130.61,447.46 L131.30,447.39 L131.99,447.31 L132.69,447.24 L133.38,447.16 L134.07,447.09 L134.76,447.01 L135.45,446.94 L136.14,446.87 L136.84,446.79 L137.53,446.72 L138.22,446.64 L138.91,446.57 L139.60,446.50 L140.29,446.42 L140.99,446.35 L141.68,446.27 L142.37,446.20 L143.06,446.13 L143.75,446.05 L144.44,445.98 L145.14,445.91 L145.83,445.83 L146.52,445.76 L147.21,445.69 L147.90,445.62 L148.59,445.54 L149.28,445.47 L149.98,445.40 L150.67,445.32 L151.36,445.25 L152.05,445.18 L152.74,445.11 L153.43,445.03 L154.13,444.96 L154.82,444.89 L155.51,444.82 L156.20,444.75 L156.89,444.67 L157.58,444.60 L158.28,444.53 L158.97,444.46 L159.66,444.39 L160.35,444.31 L161.04,444.24 L161.73,444.17 L162.43,444.10 L163.12,444.03 L163.81,443.96 L164.50,443.89 L165.19,443.82 L165.88,443.74 L166.58,443.67 L167.27,443.60 L167.96,443.53 L168.65,443.46 L169.34,443.39 L170.03,443.32 L170.72,443.25 L171.42,443.18 L172.11,443.11 L172.80,443.04 L173.49,442.97 L174.18,442.90 L174.87,442.83 L175.57,442.76 L176.26,442.69 L176.95,442.62 L177.64,442.55 L178.33,442.48 L179.02,442.41 L179.72,442.34 L180.41,442.27 L181.10,442.20 L181.79,442.13 L182.48,442.06 L183.17,441.99 L183.87,441.92 L184.56,441.85 L185.25,441.78 L185.94,441.71 L186.63,441.64 L187.32,441.58 L188.01,441.51 L188.71,441.44 L189.40,441.37 L190.09,441.30 L190.78,441.23 L191.47,441.16 L192.16,441.10 L192.86,441.03 L193.55,440.96 L194.24,440.89 L194.93,440.82 L195.62,440.75 L196.31,440.69 L197.01,440.62 L197.70,440.55 L198.39,440.48 L199.08,440.41 L199.77,440.35 L200.46,440.28 L201.16,440.21 L201.85,440.14 L202.54,440.08 L203.23,440.01 L203.92,439.94 L204.61,439.87 L205.31,439.81 L206.00,439.74 L206.69,439.67 L207.38,439.61 L208.07,439.54 L208.76,439.47 L209.45,439.41 L210.15,439.34 L210.84,439.27 L211.53,439.21 L212.22,439.14 L212.91,439.07 L213.60,439.01 L214.30,438.94 L214.99,438.87 L215.68,438.81 L216.37,438.74 L217.06,438.68 L217.75,438.61 L218.45,438.54 L219.14,438.48 L219.83,438.41 L220.52,438.35 L221.21,438.28 L221.90,438.22 L222.60,438.15 L223.29,438.09 L223.98,438.02 L224.67,437.95 L225.36,437.89 L226.05,437.82 L226.74,437.76 L227.44,437.69 L228.13,437.63 L228.82,437.56 L229.51,437.50 L230.20,437.43 L230.89,437.37 L231.59,437.30 L232.28,437.24 L232.97,437.18 L233.66,437.11 L234.35,437.05 L235.04,436.98 L235.74,436.92 L236.43,436.85 L237.12,436.79 L237.81,436.73 L238.50,436.66 L239.19,436.60 L239.89,436.53 L240.58,436.47 L241.27,436.41 L241.96,436.34 L242.65,436.28 L243.34,436.22 L244.04,436.15 L244.73,436.09 L245.42,436.02 L246.11,435.96 L246.80,435.90 L247.49,435.84 L248.18,435.77 L248.88,435.71 L249.57,435.65 L250.26,435.58 L250.95,435.52 L251.64,435.46 L252.33,435.39 L253.03,435.33 L253.72,435.27 L254.41,435.21 L255.10,435.14 L255.79,435.08 L256.48,435.02 L257.18,434.96 L257.87,434.89 L258.56,434.83 L259.25,434.77 L259.94,434.71 L260.63,434.65 L261.33,434.58 L262.02,434.52 L262.71,434.46 L263.40,434.40 L264.09,434.34 L264.78,434.28 L265.47,434.21 L266.17,434.15 L266.86,434.09 L267.55,434.03 L268.24,433.97 L268.93,433.91 L269.62,433.85 L270.32,433.78 L271.01,433.72 L271.70,433.66 L272.39,433.60 L273.08,433.54 L273.77,433.48 L274.47,433.42 L275.16,433.36 L275.85,433.30 L276.54,433.24 L277.23,433.18 L277.92,433.12 L278.62,433.06 L279.31,432.99 L280.00,432.93 L280.69,432.87 L281.38,432.81 L282.07,432.75 L282.77,432.69 L283.46,432.63 L284.15,432.57 L284.84,432.51 L285.53,432.45 L286.22,432.39 L286.91,432.33 L287.61,432.28 L288.30,432.22 L288.99,432.16 L289.68,432.10 L290.37,432.04 L291.06,431.98 L291.76,431.92 L292.45,431.86 L293.14,431.80 L293.83,431.74 L294.52,431.68 L295.21,431.62 L295.91,431.56 L296.60,431.50 L297.29,431.45 L297.98,431.39 L298.67,431.33 L299.36,431.27 L300.06,431.21 L300.75,431.15 L301.44,431.09 L302.13,431.04 L302.82,430.98 L303.51,430.92 L304.20,430.86 L304.90,430.80 L305.59,430.74 L306.28,430.69 L306.97,430.63 L307.66,430.57 L308.35,430.51 L309.05,430.45 L309.74,430.40 L310.43,430.34 L311.12,430.28 L311.81,430.22 L312.50,430.17 L313.20,430.11 L313.89,430.05 L314.58,429.99 L315.27,429.94 L315.96,429.88 L316.65,429.82 L317.35,429.77 L318.04,429.71 L318.73,429.65 L319.42,429.59 L320.11,429.54 L320.80,429.48 L321.50,429.42 L322.19,429.37 L322.88,429.31 L323.57,429.25 L324.26,429.20 L324.95,429.14 L325.64,429.08 L326.34,429.03 L327.03,428.97 L327.72,428.91 L328.41,428.86 L329.10,428.80 L329.79,428.75 L330.49,428.69 L331.18,428.63 L331.87,428.58 L332.56,428.52 L333.25,428.47 L333.94,428.41 L334.64,428.35 L335.33,428.30 L336.02,428.24 L336.71,428.19 L337.40,428.13 L338.09,428.08 L338.79,428.02 L339.48,427.97 L340.17,427.91 L340.86,427.86 L341.55,427.80 L342.24,427.74 L342.93,427.69 L343.63,427.63 L344.32,427.58 L345.01,427.52 L345.70,427.47 L346.39,427.42 L347.08,427.36 L347.78,427.31 L348.47,427.25 L349.16,427.20 L349.85,427.14 L350.54,427.09 L351.23,427.03 L351.93,426.98 L352.62,426.92 L353.31,426.87 L354.00,426.82 L354.69,426.76 L355.38,426.71 L356.08,426.65 L356.77,426.60 L357.46,426.55 L358.15,426.49 L358.84,426.44 L359.53,426.38 L360.23,426.33 L360.92,426.28 L361.61,426.22 L362.30,426.17 L362.99,426.12 L363.68,426.06 L364.37,426.01 L365.07,425.96 L365.76,425.90 L366.45,425.85 L367.14,425.80 L367.83,425.74 L368.52,425.69 L369.22,425.64 L369.91,425.58 L370.60,425.53 L371.29,425.48 L371.98,425.42 L372.67,425.37 L373.37,425.32 L374.06,425.27 L374.75,425.21 L375.44,425.16 L376.13,425.11 L376.82,425.06 L377.52,425.00 L378.21,424.95 L378.90,424.90 L379.59,424.85 L380.28,424.79 L380.97,424.74 L381.66,424.69 L382.36,424.64 L383.05,424.59 L383.74,424.53 L384.43,424.48 L385.12,424.43 L385.81,424.38 L386.51,424.33 L387.20,424.28 L387.89,424.22 L388.58,424.17 L389.27,424.12 L389.96,424.07 L390.66,424.02 L391.35,423.97 L392.04,423.92 L392.73,423.86 L393.42,423.81 L394.11,423.76 L394.81,423.71 L395.50,423.66 L396.19,423.61 L396.88,423.56 L397.57,423.51 L398.26,423.46 L398.96,423.40 L399.65,423.35 L400.34,423.30 L401.03,423.25 L401.72,423.20 L402.41,423.15 L403.10,423.10 L403.80,423.05 L404.49,423.00 L405.18,422.95 L405.87,422.90 L406.56,422.85 L407.25,422.80 L407.95,422.75 L408.64,422.70 L409.33,422.65 L410.02,422.60 L410.71,422.55 L411.40,422.50 L412.10,422.45 L412.79,422.40 L413.48,422.35 L414.17,422.30 L414.86,422.25 L415.55,422.20 L416.25,422.15 L416.94,422.10 L417.63,422.05 L418.32,422.00 L419.01,421.95 L419.70,421.90 L420.39,421.85 L421.09,421.80 L421.78,421.76 L422.47,421.71 L423.16,421.66 L423.85,421.61 L424.54,421.56 L425.24,421.51 L425.93,421.46 L426.62,421.41 L427.31,421.36 L428.00,421.32 L428.69,421.27 L429.39,421.22 L430.08,421.17 L430.77,421.12 L431.46,421.07 L432.15,421.02 L432.84,420.98 L433.54,420.93 L434.23,420.88 L434.92,420.83 L435.61,420.78 L436.30,420.73 L436.99,420.69 L437.69,420.64 L438.38,420.59 L439.07,420.54 L439.76,420.49 L440.45,420.45 L441.14,420.40 L441.83,420.35 L442.53,420.30 L443.22,420.25 L443.91,420.21 L444.60,420.16 L445.29,420.11 L445.98,420.06 L446.68,420.02 L447.37,419.97 L448.06,419.92 L448.75,419.88 L449.44,419.83 L450.13,419.78 L450.83,419.73 L451.52,419.69 L452.21,419.64 L452.90,419.59 L453.59,419.55 L454.28,419.50 L454.98,419.45 L455.67,419.40 L456.36,419.36 L457.05,419.31 L457.74,419.26 L458.43,419.22 L459.12,419.17 L459.82,419.12 L460.51,419.08 L461.20,419.03 L461.89,418.98 L462.58,418.94 L463.27,418.89 L463.97,418.85 L464.66,418.80 L465.35,418.75 L466.04,418.71 L466.73,418.66 L467.42,418.62 L468.12,418.57 L468.81,418.52 L469.50,418.48 L470.19,418.43 L470.88,418.39 L471.57,418.34 L472.27,418.29 L472.96,418.25 L473.65,418.20 L474.34,418.16 L475.03,418.11 L475.72,418.07 L476.42,418.02 L477.11,417.98 L477.80,417.93 L478.49,417.88 L479.18,417.84 L479.87,417.79 L480.56,417.75 L481.26,417.70 L481.95,417.66 L482.64,417.61 L483.33,417.57 L484.02,417.52 L484.71,417.48 L485.41,417.43 L486.10,417.39 L486.79,417.34 L487.48,417.30 L488.17,417.25 L488.86,417.21 L489.56,417.17 L490.25,417.12 L490.94,417.08 L491.63,417.03 L492.32,416.99 L493.01,416.94 L493.71,416.90 L494.40,416.85 L495.09,416.81 L495.78,416.77 L496.47,416.72 L497.16,416.68 L497.85,416.63 L498.55,416.59 L499.24,416.55 L499.93,416.50 L500.62,416.46 L501.31,416.41 L502.00,416.37 L502.70,416.33 L503.39,416.28 L504.08,416.24 L504.77,416.19 L505.46,416.15 L506.15,416.11 L506.85,416.06 L507.54,416.02 L508.23,415.98 L508.92,415.93 L509.61,415.89 L510.30,415.85 L511.00,415.80 L511.69,415.76 L512.38,415.72 L513.07,415.67 L513.76,415.63 L514.45,415.59 L515.15,415.55 L515.84,415.50 L516.53,415.46 L517.22,415.42 L517.91,415.37 L518.60,415.33 L519.29,415.29 L519.99,415.25" fill="none" stroke="#2ca02c" stroke-width="4.60" stroke-dasharray="14 9.3" stroke-dashoffset="9.30" stroke-linejoin="round"/>
<path d="M670.61,371.78L689.41,390.58M670.61,390.58L689.41,371.78M698.42,527.30L717.22,546.10M698.42,546.10L717.22,527.30M726.22,419.99L745.02,438.79M726.22,438.79L745.02,419.99M754.02,473.26L772.82,492.06M754.02,492.06L772.82,473.26M781.83,493.09L800.63,511.89M781.83,511.89L800.63,493.09M809.63,431.27L828.43,450.07M809.63,450.07L828.43,431.27M837.43,529.64L856.23,548.44M837.43,548.44L856.23,529.64M865.24,443.71L884.04,462.51M865.24,462.51L884.04,443.71M893.04,521.86L911.84,540.66M893.04,540.66L911.84,521.86M920.85,470.54L939.65,489.34M920.85,489.34L939.65,470.54M948.65,496.20L967.45,515.00M948.65,515.00L967.45,496.20M976.45,505.92L995.25,524.72M976.45,524.72L995.25,505.92M1004.26,485.70L1023.06,504.50M1004.26,504.50L1023.06,485.70M1032.06,517.97L1050.86,536.77M1032.06,536.77L1050.86,517.97M1059.86,495.03L1078.66,513.83M1059.86,513.83L1078.66,495.03" stroke="#000" stroke-width="4.6" fill="none"/>
<path d="M680.01,352.80 L680.71,354.59 L681.40,356.36 L682.09,358.12 L682.78,359.86 L683.47,361.58 L684.16,363.29 L684.85,364.98 L685.55,366.65 L686.24,368.31 L686.93,369.96 L687.62,371.59 L688.31,373.20 L689.00,374.80 L689.70,376.38 L690.39,377.95 L691.08,379.51 L691.77,381.05 L692.46,382.57 L693.15,384.08 L693.85,385.58 L694.54,387.06 L695.23,388.53 L695.92,389.98 L696.61,391.43 L697.30,392.85 L698.00,394.27 L698.69,395.67 L699.38,397.06 L700.07,398.43 L700.76,399.79 L701.45,401.14 L702.15,402.48 L702.84,403.80 L703.53,405.11 L704.22,406.41 L704.91,407.70 L705.60,408.97 L706.29,410.24 L706.99,411.49 L707.68,412.73 L708.37,413.95 L709.06,415.17 L709.75,416.37 L710.44,417.57 L711.14,418.75 L711.83,419.92 L712.52,421.08 L713.21,422.22 L713.90,423.36 L714.59,424.49 L715.29,425.60 L715.98,426.71 L716.67,427.81 L717.36,428.89 L718.05,429.96 L718.74,431.03 L719.44,432.08 L720.13,433.13 L720.82,434.16 L721.51,435.18 L722.20,436.20 L722.89,437.20 L723.58,438.20 L724.28,439.18 L724.97,440.16 L725.66,441.13 L726.35,442.09 L727.04,443.03 L727.73,443.97 L728.43,444.90 L729.12,445.83 L729.81,446.74 L730.50,447.64 L731.19,448.54 L731.88,449.43 L732.58,450.30 L733.27,451.17 L733.96,452.04 L734.65,452.89 L735.34,453.74 L736.03,454.57 L736.73,455.40 L737.42,456.22 L738.11,457.04 L738.80,457.84 L739.49,458.64 L740.18,459.43 L740.88,460.21 L741.57,460.99 L742.26,461.75 L742.95,462.51 L743.64,463.27 L744.33,464.01 L745.02,464.75 L745.72,465.48 L746.41,466.21 L747.10,466.92 L747.79,467.63 L748.48,468.34 L749.17,469.03 L749.87,469.72 L750.56,470.40 L751.25,471.08 L751.94,471.75 L752.63,472.41 L753.32,473.07 L754.02,473.72 L754.71,474.36 L755.40,475.00 L756.09,475.63 L756.78,476.26 L757.47,476.88 L758.17,477.49 L758.86,478.10 L759.55,478.70 L760.24,479.29 L760.93,479.88 L761.62,480.46 L762.31,481.04 L763.01,481.61 L763.70,482.18 L764.39,482.74 L765.08,483.30 L765.77,483.85 L766.46,484.39 L767.16,484.93 L767.85,485.46 L768.54,485.99 L769.23,486.51 L769.92,487.03 L770.61,487.54 L771.31,488.05 L772.00,488.55 L772.69,489.05 L773.38,489.54 L774.07,490.03 L774.76,490.51 L775.46,490.99 L776.15,491.46 L776.84,491.93 L777.53,492.40 L778.22,492.86 L778.91,493.31 L779.61,493.76 L780.30,494.20 L780.99,494.65 L781.68,495.08 L782.37,495.51 L783.06,495.94 L783.75,496.36 L784.45,496.78 L785.14,497.20 L785.83,497.61 L786.52,498.01 L787.21,498.42 L787.90,498.81 L788.60,499.21 L789.29,499.60 L789.98,499.98 L790.67,500.37 L791.36,500.74 L792.05,501.12 L792.75,501.49 L793.44,501.85 L794.13,502.22 L794.82,502.57 L795.51,502.93 L796.20,503.28 L796.90,503.63 L797.59,503.97 L798.28,504.31 L798.97,504.65 L799.66,504.98 L800.35,505.31 L801.04,505.64 L801.74,505.96 L802.43,506.28 L803.12,506.60 L803.81,506.91 L804.50,507.22 L805.19,507.53 L805.89,507.83 L806.58,508.13 L807.27,508.43 L807.96,508.72 L808.65,509.01 L809.34,509.30 L810.04,509.58 L810.73,509.87 L811.42,510.14 L812.11,510.42 L812.80,510.69 L813.49,510.96 L814.19,511.23 L814.88,511.49 L815.57,511.75 L816.26,512.01 L816.95,512.26 L817.64,512.52 L818.34,512.76 L819.03,513.01 L819.72,513.25 L820.41,513.50 L821.10,513.73 L821.79,513.97 L822.48,514.20 L823.18,514.43 L823.87,514.66 L824.56,514.89 L825.25,515.11 L825.94,515.33 L826.63,515.55 L827.33,515.77 L828.02,515.98 L828.71,516.19 L829.40,516.40 L830.09,516.60 L830.78,516.81 L831.48,517.01 L832.17,517.21 L832.86,517.41 L833.55,517.60 L834.24,517.79 L834.93,517.98 L835.63,518.17 L836.32,518.36 L837.01,518.54 L837.70,518.72 L838.39,518.90 L839.08,519.08 L839.77,519.25 L840.47,519.42 L841.16,519.59 L841.85,519.76 L842.54,519.93 L843.23,520.10 L843.92,520.26 L844.62,520.42 L845.31,520.58 L846.00,520.73 L846.69,520.89 L847.38,521.04 L848.07,521.19 L848.77,521.34 L849.46,521.49 L850.15,521.64 L850.84,521.78 L851.53,521.92 L852.22,522.06 L852.92,522.20 L853.61,522.34 L854.30,522.47 L854.99,522.61 L855.68,522.74 L856.37,522.87 L857.07,523.00 L857.76,523.12 L858.45,523.25 L859.14,523.37 L859.83,523.49 L860.52,523.61 L861.21,523.73 L861.91,523.85 L862.60,523.97 L863.29,524.08 L863.98,524.19 L864.67,524.30 L865.36,524.41 L866.06,524.52 L866.75,524.63 L867.44,524.73 L868.13,524.83 L868.82,524.94 L869.51,525.04 L870.21,525.14 L870.90,525.23 L871.59,525.33 L872.28,525.43 L872.97,525.52 L873.66,525.61 L874.36,525.70 L875.05,525.79 L875.74,525.88 L876.43,525.97 L877.12,526.05 L877.81,526.14 L878.50,526.22 L879.20,526.30 L879.89,526.38 L880.58,526.46 L881.27,526.54 L881.96,526.62 L882.65,526.69 L883.35,526.77 L884.04,526.84 L884.73,526.91 L885.42,526.99 L886.11,527.06 L886.80,527.12 L887.50,527.19 L888.19,527.26 L888.88,527.32 L889.57,527.39 L890.26,527.45 L890.95,527.51 L891.65,527.57 L892.34,527.63 L893.03,527.69 L893.72,527.75 L894.41,527.81 L895.10,527.86 L895.80,527.92 L896.49,527.97 L897.18,528.03 L897.87,528.08 L898.56,528.13 L899.25,528.18 L899.94,528.23 L900.64,528.28 L901.33,528.32 L902.02,528.37 L902.71,528.41 L903.40,528.46 L904.09,528.50 L904.79,528.54 L905.48,528.59 L906.17,528.63 L906.86,528.67 L907.55,528.70 L908.24,528.74 L908.94,528.78 L909.63,528.82 L910.32,528.85 L911.01,528.89 L911.70,528.92 L912.39,528.95 L913.09,528.98 L913.78,529.02 L914.47,529.05 L915.16,529.08 L915.85,529.11 L916.54,529.13 L917.23,529.16 L917.93,529.19 L918.62,529.21 L919.31,529.24 L920.00,529.26 L920.69,529.29 L921.38,529.31 L922.08,529.33 L922.77,529.35 L923.46,529.37 L924.15,529.39 L924.84,529.41 L925.53,529.43 L926.23,529.45 L926.92,529.47 L927.61,529.48 L928.30,529.50 L928.99,529.51 L929.68,529.53 L930.38,529.54 L931.07,529.56 L931.76,529.57 L932.45,529.58 L933.14,529.59 L933.83,529.60 L934.53,529.61 L935.22,529.62 L935.91,529.63 L936.60,529.64 L937.29,529.65 L937.98,529.65 L938.67,529.66 L939.37,529.67 L940.06,529.67 L940.75,529.68 L941.44,529.68 L942.13,529.68 L942.82,529.69 L943.52,529.69 L944.21,529.69 L944.90,529.69 L945.59,529.69 L946.28,529.69 L946.97,529.69 L947.67,529.69 L948.36,529.69 L949.05,529.69 L949.74,529.69 L950.43,529.69 L951.12,529.68 L951.82,529.68 L952.51,529.67 L953.20,529.67 L953.89,529.66 L954.58,529.66 L955.27,529.65 L955.96,529.65 L956.66,529.64 L957.35,529.63 L958.04,529.62 L958.73,529.61 L959.42,529.60 L960.11,529.60 L960.81,529.59 L961.50,529.57 L962.19,529.56 L962.88,529.55 L963.57,529.54 L964.26,529.53 L964.96,529.52 L965.65,529.50 L966.34,529.49 L967.03,529.48 L967.72,529.46 L968.41,529.45 L969.11,529.43 L969.80,529.42 L970.49,529.40 L971.18,529.39 L971.87,529.37 L972.56,529.35 L973.26,529.33 L973.95,529.32 L974.64,529.30 L975.33,529.28 L976.02,529.26 L976.71,529.24 L977.40,529.22 L978.10,529.20 L978.79,529.18 L979.48,529.16 L980.17,529.14 L980.86,529.12 L981.55,529.10 L982.25,529.08 L982.94,529.05 L983.63,529.03 L984.32,529.01 L985.01,528.99 L985.70,528.96 L986.40,528.94 L987.09,528.91 L987.78,528.89 L988.47,528.86 L989.16,528.84 L989.85,528.81 L990.55,528.79 L991.24,528.76 L991.93,528.74 L992.62,528.71 L993.31,528.68 L994.00,528.65 L994.69,528.63 L995.39,528.60 L996.08,528.57 L996.77,528.54 L997.46,528.51 L998.15,528.48 L998.84,528.46 L999.54,528.43 L1000.23,528.40 L1000.92,528.37 L1001.61,528.34 L1002.30,528.30 L1002.99,528.27 L1003.69,528.24 L1004.38,528.21 L1005.07,528.18 L1005.76,528.15 L1006.45,528.12 L1007.14,528.08 L1007.84,528.05 L1008.53,528.02 L1009.22,527.98 L1009.91,527.95 L1010.60,527.92 L1011.29,527.88 L1011.99,527.85 L1012.68,527.82 L1013.37,527.78 L1014.06,527.75 L1014.75,527.71 L1015.44,527.68 L1016.13,527.64 L1016.83,527.60 L1017.52,527.57 L1018.21,527.53 L1018.90,527.50 L1019.59,527.46 L1020.28,527.42 L1020.98,527.39 L1021.67,527.35 L1022.36,527.31 L1023.05,527.27 L1023.74,527.24 L1024.43,527.20 L1025.13,527.16 L1025.82,527.12 L1026.51,527.08 L1027.20,527.04 L1027.89,527.01 L1028.58,526.97 L1029.28,526.93 L1029.97,526.89 L1030.66,526.85 L1031.35,526.81 L1032.04,526.77 L1032.73,526.73 L1033.42,526.69 L1034.12,526.65 L1034.81,526.61 L1035.50,526.57 L1036.19,526.52 L1036.88,526.48 L1037.57,526.44 L1038.27,526.40 L1038.96,526.36 L1039.65,526.32 L1040.34,526.27 L1041.03,526.23 L1041.72,526.19 L1042.42,526.15 L1043.11,526.10 L1043.80,526.06 L1044.49,526.02 L1045.18,525.98 L1045.87,525.93 L1046.57,525.89 L1047.26,525.84 L1047.95,525.80 L1048.64,525.76 L1049.33,525.71 L1050.02,525.67 L1050.72,525.62 L1051.41,525.58 L1052.10,525.54 L1052.79,525.49 L1053.48,525.45 L1054.17,525.40 L1054.86,525.36 L1055.56,525.31 L1056.25,525.26 L1056.94,525.22 L1057.63,525.17 L1058.32,525.13 L1059.01,525.08 L1059.71,525.04 L1060.40,524.99 L1061.09,524.94 L1061.78,524.90 L1062.47,524.85 L1063.16,524.80 L1063.86,524.76 L1064.55,524.71 L1065.24,524.66 L1065.93,524.62 L1066.62,524.57 L1067.31,524.52 L1068.01,524.47 L1068.70,524.43 L1069.39,524.38 L1070.08,524.33 L1070.77,524.28 L1071.46,524.23 L1072.15,524.19 L1072.85,524.14 L1073.54,524.09 L1074.23,524.04 L1074.92,523.99 L1075.61,523.94 L1076.30,523.89 L1077.00,523.85 L1077.69,523.80 L1078.38,523.75 L1079.07,523.70 L1079.76,523.65 L1080.45,523.60 L1081.15,523.55 L1081.84,523.50 L1082.53,523.45 L1083.22,523.40 L1083.91,523.35 L1084.60,523.30 L1085.30,523.25 L1085.99,523.20 L1086.68,523.15 L1087.37,523.10 L1088.06,523.05 L1088.75,523.00 L1089.45,522.95 L1090.14,522.90 L1090.83,522.85 L1091.52,522.80 L1092.21,522.75 L1092.90,522.70 L1093.59,522.64 L1094.29,522.59" fill="none" stroke="#1f77b4" stroke-width="4.60" stroke-dasharray="14 9.3" stroke-dashoffset="0.00" stroke-linejoin="round"/>
<path d="M680.01,352.80 L680.71,353.00 L681.40,353.61 L682.09,354.62 L682.78,356.03 L683.47,357.82 L684.16,360.01 L684.85,362.56 L685.55,365.49 L686.24,368.76 L686.93,372.38 L687.62,376.31 L688.31,380.56 L689.00,385.09 L689.70,389.90 L690.39,394.95 L691.08,400.24 L691.77,405.73 L692.46,411.41 L693.15,417.25 L693.85,423.22 L694.54,429.31 L695.23,435.48 L695.92,441.71 L696.61,447.98 L697.30,454.26 L698.00,460.51 L698.69,466.73 L699.38,472.87 L700.07,478.92 L700.76,484.85 L701.45,490.63 L702.15,496.25 L702.84,501.67 L703.53,506.88 L704.22,511.84 L704.91,516.55 L705.60,520.99 L706.29,525.13 L706.99,528.95 L707.68,532.44 L708.37,535.59 L709.06,538.39 L709.75,540.81 L710.44,542.86 L711.14,544.52 L711.83,545.79 L712.52,546.65 L713.21,547.12 L713.90,547.18 L714.59,546.86 L715.29,546.17 L715.98,545.12 L716.67,543.71 L717.36,541.95 L718.05,539.84 L718.74,537.40 L719.44,534.64 L720.13,531.57 L720.82,528.22 L721.51,524.59 L722.20,520.70 L722.89,516.58 L723.58,512.25 L724.28,507.73 L724.97,503.04 L725.66,498.21 L726.35,493.25 L727.04,488.21 L727.73,483.09 L728.43,477.94 L729.12,472.77 L729.81,467.61 L730.50,462.49 L731.19,457.44 L731.88,452.47 L732.58,447.62 L733.27,442.92 L733.96,438.38 L734.65,434.02 L735.34,429.88 L736.03,425.97 L736.73,422.31 L737.42,418.93 L738.11,415.83 L738.80,413.04 L739.49,410.56 L740.18,408.42 L740.88,406.62 L741.57,405.17 L742.26,404.08 L742.95,403.35 L743.64,402.99 L744.33,403.00 L745.02,403.30 L745.72,403.90 L746.41,404.78 L747.10,405.95 L747.79,407.40 L748.48,409.12 L749.17,411.11 L749.87,413.36 L750.56,415.86 L751.25,418.60 L751.94,421.57 L752.63,424.75 L753.32,428.14 L754.02,431.71 L754.71,435.47 L755.40,439.38 L756.09,443.43 L756.78,447.61 L757.47,451.90 L758.17,456.28 L758.86,460.74 L759.55,465.25 L760.24,469.80 L760.93,474.36 L761.62,478.93 L762.31,483.48 L763.01,487.99 L763.70,492.44 L764.39,496.82 L765.08,501.11 L765.77,505.29 L766.46,509.34 L767.16,513.24 L767.85,516.99 L768.54,520.56 L769.23,523.94 L769.92,527.12 L770.61,530.08 L771.31,532.82 L772.00,535.31 L772.69,537.55 L773.38,539.53 L774.07,541.25 L774.76,542.69 L775.46,543.85 L776.15,544.73 L776.84,545.31 L777.53,545.61 L778.22,545.62 L778.91,545.37 L779.61,544.89 L780.30,544.17 L780.99,543.21 L781.68,542.02 L782.37,540.60 L783.06,538.96 L783.75,537.10 L784.45,535.05 L785.14,532.79 L785.83,530.35 L786.52,527.74 L787.21,524.97 L787.90,522.04 L788.60,518.98 L789.29,515.80 L789.98,512.51 L790.67,509.13 L791.36,505.67 L792.05,502.14 L792.75,498.57 L793.44,494.97 L794.13,491.36 L794.82,487.75 L795.51,484.16 L796.20,480.60 L796.90,477.10 L797.59,473.66 L798.28,470.31 L798.97,467.06 L799.66,463.91 L800.35,460.90 L801.04,458.03 L801.74,455.31 L802.43,452.76 L803.12,450.38 L803.81,448.19 L804.50,446.21 L805.19,444.43 L805.89,442.86 L806.58,441.52 L807.27,440.41 L807.96,439.53 L808.65,438.89 L809.34,438.49 L810.04,438.34 L810.73,438.42 L811.42,438.73 L812.11,439.27 L812.80,440.03 L813.49,441.01 L814.19,442.21 L814.88,443.63 L815.57,445.24 L816.26,447.06 L816.95,449.06 L817.64,451.25 L818.34,453.61 L819.03,456.13 L819.72,458.79 L820.41,461.60 L821.10,464.53 L821.79,467.57 L822.48,470.71 L823.18,473.94 L823.87,477.24 L824.56,480.59 L825.25,483.98 L825.94,487.40 L826.63,490.82 L827.33,494.24 L828.02,497.65 L828.71,501.01 L829.40,504.33 L830.09,507.58 L830.78,510.75 L831.48,513.82 L832.17,516.79 L832.86,519.64 L833.55,522.35 L834.24,524.92 L834.93,527.33 L835.63,529.57 L836.32,531.63 L837.01,533.51 L837.70,535.19 L838.39,536.67 L839.08,537.94 L839.77,538.99 L840.47,539.83 L841.16,540.44 L841.85,540.82 L842.54,540.98 L843.23,540.92 L843.92,540.71 L844.62,540.33 L845.31,539.79 L846.00,539.10 L846.69,538.25 L847.38,537.25 L848.07,536.10 L848.77,534.81 L849.46,533.38 L850.15,531.82 L850.84,530.13 L851.53,528.33 L852.22,526.42 L852.92,524.40 L853.61,522.29 L854.30,520.10 L854.99,517.83 L855.68,515.49 L856.37,513.10 L857.07,510.66 L857.76,508.19 L858.45,505.68 L859.14,503.17 L859.83,500.64 L860.52,498.12 L861.21,495.62 L861.91,493.15 L862.60,490.71 L863.29,488.31 L863.98,485.98 L864.67,483.71 L865.36,481.51 L866.06,479.41 L866.75,477.39 L867.44,475.48 L868.13,473.68 L868.82,471.99 L869.51,470.43 L870.21,469.00 L870.90,467.71 L871.59,466.56 L872.28,465.56 L872.97,464.71 L873.66,464.01 L874.36,463.48 L875.05,463.10 L875.74,462.89 L876.43,462.83 L877.12,462.96 L877.81,463.29 L878.50,463.80 L879.20,464.51 L879.89,465.39 L880.58,466.46 L881.27,467.70 L881.96,469.11 L882.65,470.68 L883.35,472.40 L884.04,474.27 L884.73,476.27 L885.42,478.39 L886.11,480.62 L886.80,482.96 L887.50,485.38 L888.19,487.87 L888.88,490.43 L889.57,493.04 L890.26,495.69 L890.95,498.35 L891.65,501.02 L892.34,503.69 L893.03,506.33 L893.72,508.94 L894.41,511.51 L895.10,514.01 L895.80,516.43 L896.49,518.77 L897.18,521.01 L897.87,523.14 L898.56,525.15 L899.25,527.02 L899.94,528.75 L900.64,530.33 L901.33,531.75 L902.02,533.00 L902.71,534.08 L903.40,534.98 L904.09,535.69 L904.79,536.22 L905.48,536.55 L906.17,536.70 L906.86,536.66 L907.55,536.46 L908.24,536.10 L908.94,535.59 L909.63,534.92 L910.32,534.11 L911.01,533.15 L911.70,532.06 L912.39,530.83 L913.09,529.47 L913.78,528.00 L914.47,526.41 L915.16,524.72 L915.85,522.94 L916.54,521.07 L917.23,519.13 L917.93,517.13 L918.62,515.08 L919.31,512.98 L920.00,510.86 L920.69,508.72 L921.38,506.57 L922.08,504.42 L922.77,502.29 L923.46,500.20 L924.15,498.14 L924.84,496.13 L925.53,494.18 L926.23,492.31 L926.92,490.52 L927.61,488.82 L928.30,487.23 L928.99,485.74 L929.68,484.37 L930.38,483.13 L931.07,482.02 L931.76,481.05 L932.45,480.23 L933.14,479.55 L933.83,479.02 L934.53,478.65 L935.22,478.44 L935.91,478.38 L936.60,478.45 L937.29,478.61 L937.98,478.86 L938.67,479.22 L939.37,479.67 L940.06,480.21 L940.75,480.84 L941.44,481.56 L942.13,482.37 L942.82,483.26 L943.52,484.23 L944.21,485.27 L944.90,486.39 L945.59,487.58 L946.28,488.83 L946.97,490.14 L947.67,491.51 L948.36,492.93 L949.05,494.39 L949.74,495.89 L950.43,497.43 L951.12,499.00 L951.82,500.58 L952.51,502.19 L953.20,503.81 L953.89,505.43 L954.58,507.05 L955.27,508.67 L955.96,510.28 L956.66,511.87 L957.35,513.43 L958.04,514.97 L958.73,516.47 L959.42,517.93 L960.11,519.34 L960.81,520.71 L961.50,522.02 L962.19,523.27 L962.88,524.46 L963.57,525.57 L964.26,526.62 L964.96,527.58 L965.65,528.47 L966.34,529.27 L967.03,529.99 L967.72,530.62 L968.41,531.16 L969.11,531.60 L969.80,531.95 L970.49,532.21 L971.18,532.37 L971.87,532.42 L972.56,532.39 L973.26,532.24 L973.95,532.00 L974.64,531.65 L975.33,531.20 L976.02,530.66 L976.71,530.02 L977.40,529.29 L978.10,528.47 L978.79,527.57 L979.48,526.58 L980.17,525.52 L980.86,524.39 L981.55,523.19 L982.25,521.93 L982.94,520.62 L983.63,519.25 L984.32,517.85 L985.01,516.41 L985.70,514.94 L986.40,513.44 L987.09,511.94 L987.78,510.42 L988.47,508.90 L989.16,507.39 L989.85,505.89 L990.55,504.40 L991.24,502.95 L991.93,501.53 L992.62,500.14 L993.31,498.81 L994.00,497.52 L994.69,496.29 L995.39,495.13 L996.08,494.04 L996.77,493.01 L997.46,492.07 L998.15,491.21 L998.84,490.44 L999.54,489.76 L1000.23,489.17 L1000.92,488.68 L1001.61,488.29 L1002.30,488.00 L1002.99,487.81 L1003.69,487.72 L1004.38,487.73 L1005.07,487.84 L1005.76,488.03 L1006.45,488.31 L1007.14,488.68 L1007.84,489.13 L1008.53,489.67 L1009.22,490.28 L1009.91,490.98 L1010.60,491.75 L1011.29,492.59 L1011.99,493.50 L1012.68,494.47 L1013.37,495.50 L1014.06,496.58 L1014.75,497.71 L1015.44,498.89 L1016.13,500.10 L1016.83,501.35 L1017.52,502.62 L1018.21,503.92 L1018.90,505.23 L1019.59,506.54 L1020.28,507.86 L1020.98,509.18 L1021.67,510.49 L1022.36,511.78 L1023.05,513.05 L1023.74,514.30 L1024.43,515.51 L1025.13,516.68 L1025.82,517.81 L1026.51,518.89 L1027.20,519.92 L1027.89,520.88 L1028.58,521.78 L1029.28,522.62 L1029.97,523.38 L1030.66,524.07 L1031.35,524.68 L1032.04,525.21 L1032.73,525.66 L1033.42,526.02 L1034.12,526.30 L1034.81,526.48 L1035.50,526.58 L1036.19,526.59 L1036.88,526.52 L1037.57,526.37 L1038.27,526.15 L1038.96,525.86 L1039.65,525.50 L1040.34,525.06 L1041.03,524.56 L1041.72,523.99 L1042.42,523.36 L1043.11,522.67 L1043.80,521.92 L1044.49,521.11 L1045.18,520.26 L1045.87,519.36 L1046.57,518.42 L1047.26,517.44 L1047.95,516.42 L1048.64,515.38 L1049.33,514.32 L1050.02,513.24 L1050.72,512.14 L1051.41,511.03 L1052.10,509.92 L1052.79,508.82 L1053.48,507.71 L1054.17,506.63 L1054.86,505.55 L1055.56,504.50 L1056.25,503.48 L1056.94,502.48 L1057.63,501.53 L1058.32,500.61 L1059.01,499.74 L1059.71,498.92 L1060.40,498.14 L1061.09,497.43 L1061.78,496.77 L1062.47,496.18 L1063.16,495.65 L1063.86,495.19 L1064.55,494.80 L1065.24,494.48 L1065.93,494.23 L1066.62,494.06 L1067.31,493.96 L1068.01,493.93 L1068.70,493.96 L1069.39,494.01 L1070.08,494.10 L1070.77,494.21 L1071.46,494.36 L1072.15,494.54 L1072.85,494.75 L1073.54,494.99 L1074.23,495.26 L1074.92,495.56 L1075.61,495.88 L1076.30,496.24 L1077.00,496.62 L1077.69,497.03 L1078.38,497.46 L1079.07,497.92 L1079.76,498.41 L1080.45,498.91 L1081.15,499.44 L1081.84,499.99 L1082.53,500.55 L1083.22,501.14 L1083.91,501.75 L1084.60,502.37 L1085.30,503.00 L1085.99,503.65 L1086.68,504.31 L1087.37,504.98 L1088.06,505.67 L1088.75,506.36 L1089.45,507.05 L1090.14,507.76 L1090.83,508.46 L1091.52,509.17 L1092.21,509.89 L1092.90,510.60 L1093.59,511.31 L1094.29,512.01" fill="none" stroke="#ff7f0e" stroke-width="4.60" stroke-dasharray="14 9.3" stroke-dashoffset="4.65" stroke-linejoin="round"/>
<path d="M680.01,352.80 L680.71,353.00 L681.40,353.61 L682.09,354.62 L682.78,356.03 L683.47,357.82 L684.16,360.01 L684.85,362.56 L685.55,365.49 L686.24,368.76 L686.93,372.38 L687.62,376.31 L688.31,380.56 L689.00,385.09 L689.70,389.90 L690.39,394.95 L691.08,400.24 L691.77,405.73 L692.46,411.41 L693.15,417.25 L693.85,423.22 L694.54,429.31 L695.23,435.48 L695.92,441.71 L696.61,447.98 L697.30,454.26 L698.00,460.51 L698.69,466.73 L699.38,472.87 L700.07,478.92 L700.76,484.85 L701.45,490.63 L702.15,496.25 L702.84,501.67 L703.53,506.88 L704.22,511.84 L704.91,516.55 L705.60,520.99 L706.29,525.13 L706.99,528.95 L707.68,532.44 L708.37,535.59 L709.06,538.39 L709.75,540.81 L710.44,542.86 L711.14,544.52 L711.83,545.79 L712.52,546.65 L713.21,547.12 L713.90,547.18 L714.59,546.86 L715.29,546.17 L715.98,545.12 L716.67,543.71 L717.36,541.95 L718.05,539.84 L718.74,537.40 L719.44,534.64 L720.13,531.57 L720.82,528.22 L721.51,524.59 L722.20,520.70 L722.89,516.58 L723.58,512.25 L724.28,507.73 L724.97,503.04 L725.66,498.21 L726.35,493.25 L727.04,488.21 L727.73,483.09 L728.43,477.94 L729.12,472.77 L729.81,467.61 L730.50,462.49 L731.19,457.44 L731.88,452.47 L732.58,447.62 L733.27,442.92 L733.96,438.38 L734.65,434.02 L735.34,429.88 L736.03,425.97 L736.73,422.31 L737.42,418.93 L738.11,415.83 L738.80,413.04 L739.49,410.56 L740.18,408.42 L740.88,406.62 L741.57,405.17 L742.26,404.08 L742.95,403.35 L743.64,402.99 L744.33,403.00 L745.02,403.30 L745.72,403.90 L746.41,404.78 L747.10,405.95 L747.79,407.40 L748.48,409.12 L749.17,411.11 L749.87,413.36 L750.56,415.86 L751.25,418.60 L751.94,421.57 L752.63,424.75 L753.32,428.14 L754.02,431.71 L754.71,435.47 L755.40,439.38 L756.09,443.43 L756.78,447.61 L757.47,451.90 L758.17,456.28 L758.86,460.74 L759.55,465.25 L760.24,469.80 L760.93,474.36 L761.62,478.93 L762.31,483.48 L763.01,487.99 L763.70,492.44 L764.39,496.82 L765.08,501.11 L765.77,505.29 L766.46,509.34 L767.16,513.24 L767.85,516.99 L768.54,520.56 L769.23,523.94 L769.92,527.12 L770.61,530.08 L771.31,532.82 L772.00,535.31 L772.69,537.55 L773.38,539.53 L774.07,541.25 L774.76,542.69 L775.46,543.85 L776.15,544.73 L776.84,545.31 L777.53,545.61 L778.22,545.62 L778.91,545.37 L779.61,544.89 L780.30,544.17 L780.99,543.21 L781.68,542.02 L782.37,540.60 L783.06,538.96 L783.75,537.10 L784.45,535.05 L785.14,532.79 L785.83,530.35 L786.52,527.74 L787.21,524.97 L787.90,522.04 L788.60,518.98 L789.29,515.80 L789.98,512.51 L790.67,509.13 L791.36,505.67 L792.05,502.14 L792.75,498.57 L793.44,494.97 L794.13,491.36 L794.82,487.75 L795.51,484.16 L796.20,480.60 L796.90,477.10 L797.59,473.66 L798.28,470.31 L798.97,467.06 L799.66,463.91 L800.35,460.90 L801.04,458.03 L801.74,455.31 L802.43,452.76 L803.12,450.38 L803.81,448.19 L804.50,446.21 L805.19,444.43 L805.89,442.86 L806.58,441.52 L807.27,440.41 L807.96,439.53 L808.65,438.89 L809.34,438.49 L810.04,438.34 L810.73,438.42 L811.42,438.73 L812.11,439.27 L812.80,440.03 L813.49,441.01 L814.19,442.21 L814.88,443.63 L815.57,445.24 L816.26,447.06 L816.95,449.06 L817.64,451.25 L818.34,453.61 L819.03,456.13 L819.72,458.79 L820.41,461.60 L821.10,464.53 L821.79,467.57 L822.48,470.71 L823.18,473.94 L823.87,477.24 L824.56,480.59 L825.25,483.98 L825.94,487.40 L826.63,490.82 L827.33,494.24 L828.02,497.65 L828.71,501.01 L829.40,504.33 L830.09,507.58 L830.78,510.75 L831.48,513.82 L832.17,516.79 L832.86,519.64 L833.55,522.35 L834.24,524.92 L834.93,527.33 L835.63,529.57 L836.32,531.63 L837.01,533.51 L837.70,535.19 L838.39,536.67 L839.08,537.94 L839.77,538.99 L840.47,539.83 L841.16,540.44 L841.85,540.82 L842.54,540.98 L843.23,540.92 L843.92,540.71 L844.62,540.33 L845.31,539.79 L846.00,539.10 L846.69,538.25 L847.38,537.25 L848.07,536.10 L848.77,534.81 L849.46,533.38 L850.15,531.82 L850.84,530.13 L851.53,528.33 L852.22,526.42 L852.92,524.40 L853.61,522.29 L854.30,520.10 L854.99,517.83 L855.68,515.49 L856.37,513.10 L857.07,510.66 L857.76,508.19 L858.45,505.68 L859.14,503.17 L859.83,500.64 L860.52,498.12 L861.21,495.62 L861.91,493.15 L862.60,490.71 L863.29,488.31 L863.98,485.98 L864.67,483.71 L865.36,481.51 L866.06,479.41 L866.75,477.39 L867.44,475.48 L868.13,473.68 L868.82,471.99 L869.51,470.43 L870.21,469.00 L870.90,467.71 L871.59,466.56 L872.28,465.56 L872.97,464.71 L873.66,464.01 L874.36,463.48 L875.05,463.10 L875.74,462.89 L876.43,462.83 L877.12,462.96 L877.81,463.29 L878.50,463.80 L879.20,464.51 L879.89,465.39 L880.58,466.46 L881.27,467.70 L881.96,469.11 L882.65,470.68 L883.35,472.40 L884.04,474.27 L884.73,476.27 L885.42,478.39 L886.11,480.62 L886.80,482.96 L887.50,485.38 L888.19,487.87 L888.88,490.43 L889.57,493.04 L890.26,495.69 L890.95,498.35 L891.65,501.02 L892.34,503.69 L893.03,506.33 L893.72,508.94 L894.41,511.51 L895.10,514.01 L895.80,516.43 L896.49,518.77 L897.18,521.01 L897.87,523.14 L898.56,525.15 L899.25,527.02 L899.94,528.75 L900.64,530.33 L901.33,531.75 L902.02,533.00 L902.71,534.08 L903.40,534.98 L904.09,535.69 L904.79,536.22 L905.48,536.55 L906.17,536.70 L906.86,536.66 L907.55,536.46 L908.24,536.10 L908.94,535.59 L909.63,534.92 L910.32,534.11 L911.01,533.15 L911.70,532.06 L912.39,530.83 L913.09,529.47 L913.78,528.00 L914.47,526.41 L915.16,524.72 L915.85,522.94 L916.54,521.07 L917.23,519.13 L917.93,517.13 L918.62,515.08 L919.31,512.98 L920.00,510.86 L920.69,508.72 L921.38,506.57 L922.08,504.42 L922.77,502.29 L923.46,500.20 L924.15,498.14 L924.84,496.13 L925.53,494.18 L926.23,492.31 L926.92,490.52 L927.61,488.82 L928.30,487.23 L928.99,485.74 L929.68,484.37 L930.38,483.13 L931.07,482.02 L931.76,481.05 L932.45,480.23 L933.14,479.55 L933.83,479.02 L934.53,478.65 L935.22,478.44 L935.91,478.38 L936.60,478.45 L937.29,478.61 L937.98,478.86 L938.67,479.22 L939.37,479.67 L940.06,480.21 L940.75,480.84 L941.44,481.56 L942.13,482.37 L942.82,483.26 L943.52,484.23 L944.21,485.27 L944.90,486.39 L945.59,487.58 L946.28,488.83 L946.97,490.14 L947.67,491.51 L948.36,492.93 L949.05,494.39 L949.74,495.89 L950.43,497.43 L951.12,499.00 L951.82,500.58 L952.51,502.19 L953.20,503.81 L953.89,505.43 L954.58,507.05 L955.27,508.67 L955.96,510.28 L956.66,511.87 L957.35,513.43 L958.04,514.97 L958.73,516.47 L959.42,517.93 L960.11,519.34 L960.81,520.71 L961.50,522.02 L962.19,523.27 L962.88,524.46 L963.57,525.57 L964.26,526.62 L964.96,527.58 L965.65,528.47 L966.34,529.27 L967.03,529.99 L967.72,530.62 L968.41,531.16 L969.11,531.60 L969.80,531.95 L970.49,532.21 L971.18,532.37 L971.87,532.42 L972.56,532.39 L973.26,532.24 L973.95,532.00 L974.64,531.65 L975.33,531.20 L976.02,530.66 L976.71,530.02 L977.40,529.29 L978.10,528.47 L978.79,527.57 L979.48,526.58 L980.17,525.52 L980.86,524.39 L981.55,523.19 L982.25,521.93 L982.94,520.62 L983.63,519.25 L984.32,517.85 L985.01,516.41 L985.70,514.94 L986.40,513.44 L987.09,511.94 L987.78,510.42 L988.47,508.90 L989.16,507.39 L989.85,505.89 L990.55,504.40 L991.24,502.95 L991.93,501.53 L992.62,500.14 L993.31,498.81 L994.00,497.52 L994.69,496.29 L995.39,495.13 L996.08,494.04 L996.77,493.01 L997.46,492.07 L998.15,491.21 L998.84,490.44 L999.54,489.76 L1000.23,489.17 L1000.92,488.68 L1001.61,488.29 L1002.30,488.00 L1002.99,487.81 L1003.69,487.72 L1004.38,487.73 L1005.07,487.84 L1005.76,488.03 L1006.45,488.31 L1007.14,488.68 L1007.84,489.13 L1008.53,489.67 L1009.22,490.28 L1009.91,490.98 L1010.60,491.75 L1011.29,492.59 L1011.99,493.50 L1012.68,494.47 L1013.37,495.50 L1014.06,496.58 L1014.75,497.71 L1015.44,498.89 L1016.13,500.10 L1016.83,501.35 L1017.52,502.62 L1018.21,503.92 L1018.90,505.23 L1019.59,506.54 L1020.28,507.86 L1020.98,509.18 L1021.67,510.49 L1022.36,511.78 L1023.05,513.05 L1023.74,514.30 L1024.43,515.51 L1025.13,516.68 L1025.82,517.81 L1026.51,518.89 L1027.20,519.92 L1027.89,520.88 L1028.58,521.78 L1029.28,522.62 L1029.97,523.38 L1030.66,524.07 L1031.35,524.68 L1032.04,525.21 L1032.73,525.66 L1033.42,526.02 L1034.12,526.30 L1034.81,526.48 L1035.50,526.58 L1036.19,526.59 L1036.88,526.52 L1037.57,526.37 L1038.27,526.15 L1038.96,525.86 L1039.65,525.50 L1040.34,525.06 L1041.03,524.56 L1041.72,523.99 L1042.42,523.36 L1043.11,522.67 L1043.80,521.92 L1044.49,521.11 L1045.18,520.26 L1045.87,519.36 L1046.57,518.42 L1047.26,517.44 L1047.95,516.42 L1048.64,515.38 L1049.33,514.32 L1050.02,513.24 L1050.72,512.14 L1051.41,511.03 L1052.10,509.92 L1052.79,508.82 L1053.48,507.71 L1054.17,506.63 L1054.86,505.55 L1055.56,504.50 L1056.25,503.48 L1056.94,502.48 L1057.63,501.53 L1058.32,500.61 L1059.01,499.74 L1059.71,498.92 L1060.40,498.14 L1061.09,497.43 L1061.78,496.77 L1062.47,496.18 L1063.16,495.65 L1063.86,495.19 L1064.55,494.80 L1065.24,494.48 L1065.93,494.23 L1066.62,494.06 L1067.31,493.96 L1068.01,493.93 L1068.70,493.96 L1069.39,494.01 L1070.08,494.10 L1070.77,494.21 L1071.46,494.36 L1072.15,494.54 L1072.85,494.75 L1073.54,494.99 L1074.23,495.26 L1074.92,495.56 L1075.61,495.88 L1076.30,496.24 L1077.00,496.62 L1077.69,497.03 L1078.38,497.46 L1079.07,497.92 L1079.76,498.41 L1080.45,498.91 L1081.15,499.44 L1081.84,499.99 L1082.53,500.55 L1083.22,501.14 L1083.91,501.75 L1084.60,502.37 L1085.30,503.00 L1085.99,503.65 L1086.68,504.31 L1087.37,504.98 L1088.06,505.67 L1088.75,506.36 L1089.45,507.05 L1090.14,507.76 L1090.83,508.46 L1091.52,509.17 L1092.21,509.89 L1092.90,510.60 L1093.59,511.31 L1094.29,512.01" fill="none" stroke="#2ca02c" stroke-width="4.60" stroke-dasharray="14 9.3" stroke-dashoffset="9.30" stroke-linejoin="round"/>
<rect x="85.00" y="97.30" width="455.70" height="209.90" fill="none" stroke="#000" stroke-width="3.6"/>
<path d="M105.71,307.20V323.50M244.73,307.20V323.50M383.75,307.20V323.50M522.77,307.20V323.50" stroke="#000" stroke-width="3.6" fill="none"/>
<rect x="659.30" y="97.30" width="455.70" height="209.90" fill="none" stroke="#000" stroke-width="3.6"/>
<path d="M680.01,307.20V323.50M819.03,307.20V323.50M958.05,307.20V323.50M1097.07,307.20V323.50" stroke="#000" stroke-width="3.6" fill="none"/>
<rect x="85.00" y="345.40" width="455.70" height="209.60" fill="none" stroke="#000" stroke-width="3.6"/>
<path d="M105.71,555.00V571.30M244.73,555.00V571.30M383.75,555.00V571.30M522.77,555.00V571.30" stroke="#000" stroke-width="3.6" fill="none"/>
<rect x="659.30" y="345.40" width="455.70" height="209.60" fill="none" stroke="#000" stroke-width="3.6"/>
<path d="M680.01,555.00V571.30M819.03,555.00V571.30M958.05,555.00V571.30M1097.07,555.00V571.30" stroke="#000" stroke-width="3.6" fill="none"/>
<path d="M85.00,102.20H68.70M85.00,202.20H68.70M85.00,302.20H68.70" stroke="#000" stroke-width="3.6" fill="none"/>
<path d="M659.30,102.20H643.00M659.30,202.20H643.00M659.30,302.20H643.00" stroke="#000" stroke-width="3.6" fill="none"/>
<path d="M85.00,350.40H68.70M85.00,450.20H68.70M85.00,550.00H68.70" stroke="#000" stroke-width="3.6" fill="none"/>
<path d="M659.30,352.80H643.00M659.30,547.20H643.00" stroke="#000" stroke-width="3.6" fill="none"/>
<path d="M22.60,305.90H44.70M596.90,305.90H619.00M22.60,553.70H44.70" stroke="#000" stroke-width="2.4" stroke-linecap="round"/>
<rect x="63.4" y="2.2" width="987.6" height="63" rx="6.5" ry="6.5" fill="#fff" stroke="#d4d4d4" stroke-width="4.8"/>
<path d="M78,30.2H152.7" stroke="#1f77b4" stroke-width="4.6" stroke-dasharray="14 9.3" stroke-dashoffset="0"/>
<path d="M439.3,30.2H514" stroke="#ff7f0e" stroke-width="4.6" stroke-dasharray="14 9.3" stroke-dashoffset="4.3"/>
<path d="M807,30.2H881.2" stroke="#2ca02c" stroke-width="4.6" stroke-dasharray="14 9.3" stroke-dashoffset="9.3"/>
<path d="M0.80,176.10L20.80,168.20L40.80,176.10M0.80,228.50L20.80,236.40L40.80,228.50" fill="none" stroke="#000" stroke-width="1.9" stroke-linecap="round" stroke-linejoin="miter"/>
<path d="M8.40,207.20L2.90,212.40L8.40,217.60" fill="none" stroke="#000" stroke-width="1.7" stroke-linecap="round"/>
<path d="M575.10,176.10L595.10,168.20L615.10,176.10M575.10,228.50L595.10,236.40L615.10,228.50" fill="none" stroke="#000" stroke-width="1.9" stroke-linecap="round" stroke-linejoin="miter"/>
<path d="M582.70,207.20L577.20,212.40L582.70,217.60" fill="none" stroke="#000" stroke-width="1.7" stroke-linecap="round"/>
<path d="M0.80,423.90L20.80,416.00L40.80,423.90M0.80,476.30L20.80,484.20L40.80,476.30" fill="none" stroke="#000" stroke-width="1.9" stroke-linecap="round" stroke-linejoin="miter"/>
<path d="M8.40,455.00L2.90,460.20L8.40,465.40" fill="none" stroke="#000" stroke-width="1.7" stroke-linecap="round"/>
<text transform="translate(94.886,613.739) scale(0.4286,0.3806)" font-family="Liberation Serif" font-size="100">0</text>
<text transform="translate(223.720,613.739) scale(0.4133,0.3806)" font-family="Liberation Serif" font-size="100">50</text>
<text transform="translate(352.547,613.750) scale(0.4058,0.3750)" font-family="Liberation Serif" font-size="100">100</text>
<text transform="translate(491.295,613.750) scale(0.4117,0.3750)" font-family="Liberation Serif" font-size="100">150</text>
<text transform="translate(669.186,613.739) scale(0.4286,0.3806)" font-family="Liberation Serif" font-size="100">0</text>
<text transform="translate(798.020,613.739) scale(0.4133,0.3806)" font-family="Liberation Serif" font-size="100">50</text>
<text transform="translate(926.847,613.750) scale(0.4058,0.3750)" font-family="Liberation Serif" font-size="100">100</text>
<text transform="translate(1065.595,613.750) scale(0.4117,0.3750)" font-family="Liberation Serif" font-size="100">150</text>
<text transform="translate(48.677,115.600) scale(0.3914,0.3818)" font-family="Liberation Serif" font-size="100">1</text>
<text transform="translate(48.195,215.324) scale(0.4262,0.3881)" font-family="Liberation Serif" font-size="100">0</text>
<text transform="translate(48.677,315.300) scale(0.3914,0.3818)" font-family="Liberation Serif" font-size="100">1</text>
<text transform="translate(622.977,115.600) scale(0.3914,0.3818)" font-family="Liberation Serif" font-size="100">1</text>
<text transform="translate(622.495,215.324) scale(0.4262,0.3881)" font-family="Liberation Serif" font-size="100">0</text>
<text transform="translate(622.977,315.300) scale(0.3914,0.3818)" font-family="Liberation Serif" font-size="100">1</text>
<text transform="translate(48.677,363.600) scale(0.3914,0.3818)" font-family="Liberation Serif" font-size="100">1</text>
<text transform="translate(48.195,463.074) scale(0.4262,0.3881)" font-family="Liberation Serif" font-size="100">0</text>
<text transform="translate(48.677,563.100) scale(0.3914,0.3818)" font-family="Liberation Serif" font-size="100">1</text>
<text transform="translate(592.228,366.232) scale(0.4080,0.3838)" font-family="Liberation Serif" font-size="100">1.0</text>
<text transform="translate(592.383,560.630) scale(0.4043,0.3851)" font-family="Liberation Serif" font-size="100">0.5</text>
<text transform="translate(390.454,143.200) scale(0.4115,0.4667)" font-family="Liberation Serif" font-size="100">(</text>
<text transform="translate(404.659,142.394) scale(0.5103,0.4063)" font-family="Liberation Serif" font-size="100">a</text>
<text transform="translate(427.365,143.200) scale(0.4115,0.4667)" font-family="Liberation Serif" font-size="100">)</text>
<text transform="translate(962.554,143.200) scale(0.4115,0.4667)" font-family="Liberation Serif" font-size="100">(</text>
<text transform="translate(977.800,142.383) scale(0.4761,0.4171)" font-family="Liberation Serif" font-size="100">b</text>
<text transform="translate(1001.365,143.200) scale(0.4115,0.4667)" font-family="Liberation Serif" font-size="100">)</text>
<text transform="translate(393.531,391.300) scale(0.3923,0.4667)" font-family="Liberation Serif" font-size="100">(</text>
<text transform="translate(406.862,390.406) scale(0.4595,0.3938)" font-family="Liberation Serif" font-size="100">c</text>
<text transform="translate(427.423,391.300) scale(0.3923,0.4667)" font-family="Liberation Serif" font-size="100">)</text>
<text transform="translate(962.554,391.300) scale(0.4115,0.4667)" font-family="Liberation Serif" font-size="100">(</text>
<text transform="translate(975.853,390.877) scale(0.4867,0.4229)" font-family="Liberation Serif" font-size="100">d</text>
<text transform="translate(1001.365,391.300) scale(0.4115,0.4667)" font-family="Liberation Serif" font-size="100">)</text>
<text transform="translate(298.595,668.600) scale(0.5762,0.4021)" font-family="Liberation Serif" font-size="100" font-style="italic">n</text>
<text transform="translate(872.943,668.600) scale(0.5643,0.4021)" font-family="Liberation Serif" font-size="100" font-style="italic">n</text>
<text transform="rotate(-90) translate(-460.096,584.662) scale(0.4340,0.3971)" font-family="Liberation Serif" font-size="100" font-style="italic">p</text>
<text transform="translate(182.756,43.800) scale(0.4147,0.4029)" font-family="Liberation Serif" font-size="100">Markovian</text>
<text transform="translate(543.574,43.600) scale(0.4315,0.3841)" font-family="Liberation Serif" font-size="100">Qubit-TLS</text>
<text transform="translate(911.411,43.700) scale(0.4296,0.4062)" font-family="Liberation Serif" font-size="100">PMME</text>
<text transform="rotate(-90) translate(-224.971,31.735) scale(0.4571,0.3654)" font-family="Liberation Serif" font-size="100" font-style="italic">σ</text>
<text transform="rotate(-90) translate(-198.560,36.600) scale(0.3400,0.2913)" font-family="Liberation Serif" font-size="100" font-style="italic">x</text>
<text transform="rotate(-90) translate(-224.971,606.035) scale(0.4571,0.3654)" font-family="Liberation Serif" font-size="100" font-style="italic">σ</text>
<text transform="rotate(-90) translate(-196.292,609.990) scale(0.2885,0.2672)" font-family="Liberation Serif" font-size="100" font-style="italic">y</text>
<text transform="rotate(-90) translate(-472.771,31.735) scale(0.4571,0.3654)" font-family="Liberation Serif" font-size="100" font-style="italic">σ</text>
<text transform="rotate(-90) translate(-445.854,36.400) scale(0.3462,0.2783)" font-family="Liberation Serif" font-size="100" font-style="italic">z</text>
</svg></body></html>
